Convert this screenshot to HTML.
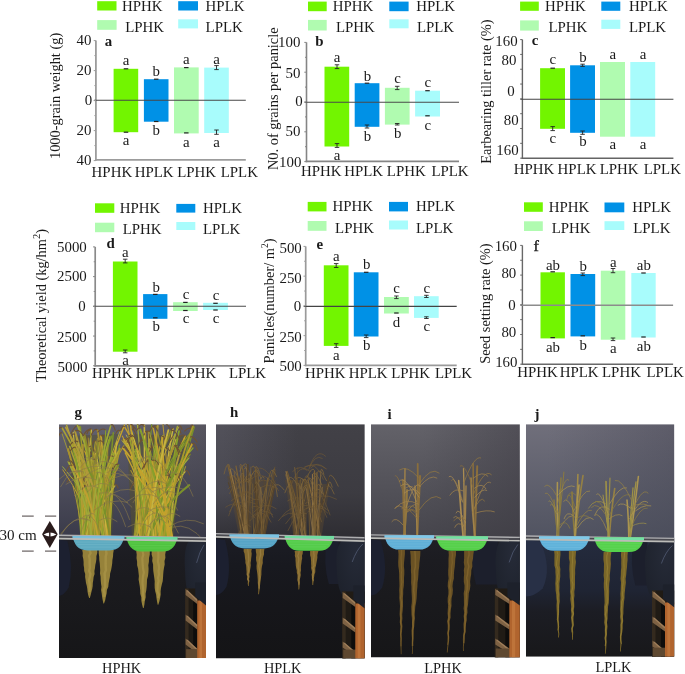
<!DOCTYPE html>
<html><head><meta charset="utf-8"><title>Figure</title>
<style>
html,body{margin:0;padding:0;background:#fff;}
body{width:685px;height:674px;overflow:hidden;}
svg{display:block;}
text{font-family:"Liberation Serif","Times New Roman",serif;fill:#1a1a1a;}
</style></head>
<body>
<svg width="685" height="674" viewBox="0 0 685 674">
<rect width="685" height="674" fill="#fff"/>
<rect x="97.20" y="1.20" width="19.30" height="9.30" fill="#72f500"/>
<text transform="translate(122.00,10.70) scale(1.035,1)" font-size="14.4" text-anchor="start" font-weight="normal" >HPHK</text>
<rect x="178.20" y="1.20" width="19.80" height="9.30" fill="#0091e6"/>
<text transform="translate(205.60,10.70) scale(1.035,1)" font-size="14.4" text-anchor="start" font-weight="normal" >HPLK</text>
<rect x="97.20" y="20.10" width="19.40" height="9.70" fill="#b0fbb0"/>
<text transform="translate(125.20,31.60) scale(1.035,1)" font-size="14.4" text-anchor="start" font-weight="normal" >LPHK</text>
<rect x="178.20" y="19.30" width="19.80" height="9.10" fill="#a8fcfc"/>
<text transform="translate(205.60,31.60) scale(1.035,1)" font-size="14.4" text-anchor="start" font-weight="normal" >LPLK</text>
<rect x="113.60" y="68.80" width="24.60" height="63.40" fill="#72f500"/>
<rect x="143.90" y="79.20" width="24.60" height="42.50" fill="#0091e6"/>
<rect x="174.00" y="67.40" width="24.70" height="66.00" fill="#b0fbb0"/>
<rect x="204.20" y="67.60" width="24.60" height="65.40" fill="#a8fcfc"/>
<line x1="95.90" y1="40.60" x2="95.90" y2="160.80" stroke="#9c9c9c" stroke-width="1.8"/>
<line x1="95.00" y1="159.90" x2="245.80" y2="159.90" stroke="#9c9c9c" stroke-width="1.8"/>
<line x1="93.90" y1="100.30" x2="245.80" y2="100.30" stroke="#474747" stroke-width="1.1"/>
<line x1="93.70" y1="40.60" x2="95.90" y2="40.60" stroke="#9c9c9c" stroke-width="1"/>
<line x1="94.40" y1="55.60" x2="95.90" y2="55.60" stroke="#9c9c9c" stroke-width="1"/>
<line x1="93.70" y1="70.60" x2="95.90" y2="70.60" stroke="#9c9c9c" stroke-width="1"/>
<line x1="94.40" y1="85.60" x2="95.90" y2="85.60" stroke="#9c9c9c" stroke-width="1"/>
<line x1="93.70" y1="100.60" x2="95.90" y2="100.60" stroke="#9c9c9c" stroke-width="1"/>
<line x1="94.40" y1="115.60" x2="95.90" y2="115.60" stroke="#9c9c9c" stroke-width="1"/>
<line x1="93.70" y1="130.60" x2="95.90" y2="130.60" stroke="#9c9c9c" stroke-width="1"/>
<line x1="94.40" y1="145.60" x2="95.90" y2="145.60" stroke="#9c9c9c" stroke-width="1"/>
<line x1="93.70" y1="160.60" x2="95.90" y2="160.60" stroke="#9c9c9c" stroke-width="1"/>
<text transform="translate(91.40,45.20) scale(1.035,1)" font-size="14.4" text-anchor="end" font-weight="normal" >40</text>
<text transform="translate(91.40,74.90) scale(1.035,1)" font-size="14.4" text-anchor="end" font-weight="normal" >20</text>
<text transform="translate(92.20,104.80) scale(1.035,1)" font-size="14.4" text-anchor="end" font-weight="normal" >0</text>
<text transform="translate(91.40,134.80) scale(1.035,1)" font-size="14.4" text-anchor="end" font-weight="normal" >20</text>
<text transform="translate(91.40,164.60) scale(1.035,1)" font-size="14.4" text-anchor="end" font-weight="normal" >40</text>
<line x1="123.75" y1="68.80" x2="128.25" y2="68.80" stroke="#222" stroke-width="1.2"/>
<line x1="153.95" y1="79.20" x2="158.45" y2="79.20" stroke="#222" stroke-width="1.2"/>
<line x1="184.05" y1="67.60" x2="188.55" y2="67.60" stroke="#222" stroke-width="1.2"/>
<line x1="216.50" y1="65.60" x2="216.50" y2="69.60" stroke="#222" stroke-width="0.9"/>
<line x1="214.25" y1="65.60" x2="218.75" y2="65.60" stroke="#222" stroke-width="0.9"/>
<line x1="214.25" y1="69.60" x2="218.75" y2="69.60" stroke="#222" stroke-width="0.9"/>
<line x1="123.75" y1="132.20" x2="128.25" y2="132.20" stroke="#222" stroke-width="1.2"/>
<line x1="153.95" y1="121.50" x2="158.45" y2="121.50" stroke="#222" stroke-width="1.2"/>
<line x1="184.05" y1="132.90" x2="188.55" y2="132.90" stroke="#222" stroke-width="1.2"/>
<line x1="216.50" y1="130.00" x2="216.50" y2="134.30" stroke="#222" stroke-width="0.9"/>
<line x1="214.25" y1="130.00" x2="218.75" y2="130.00" stroke="#222" stroke-width="0.9"/>
<line x1="214.25" y1="134.30" x2="218.75" y2="134.30" stroke="#222" stroke-width="0.9"/>
<text transform="translate(126.00,65.20) scale(1.035,1)" font-size="14.4" text-anchor="middle" font-weight="normal" >a</text>
<text transform="translate(156.20,76.20) scale(1.035,1)" font-size="14.4" text-anchor="middle" font-weight="normal" >b</text>
<text transform="translate(186.30,64.30) scale(1.035,1)" font-size="14.4" text-anchor="middle" font-weight="normal" >a</text>
<text transform="translate(216.50,64.00) scale(1.035,1)" font-size="14.4" text-anchor="middle" font-weight="normal" >a</text>
<text transform="translate(126.00,145.00) scale(1.035,1)" font-size="14.4" text-anchor="middle" font-weight="normal" >a</text>
<text transform="translate(156.20,134.80) scale(1.035,1)" font-size="14.4" text-anchor="middle" font-weight="normal" >b</text>
<text transform="translate(186.30,146.50) scale(1.035,1)" font-size="14.4" text-anchor="middle" font-weight="normal" >a</text>
<text transform="translate(216.50,147.00) scale(1.035,1)" font-size="14.4" text-anchor="middle" font-weight="normal" >a</text>
<text transform="translate(104.80,46.00) scale(1.035,1)" font-size="14.4" text-anchor="start" font-weight="bold" >a</text>
<text transform="translate(91.60,176.60) scale(1.035,1)" font-size="14.4" text-anchor="start" font-weight="normal" >HPHK</text>
<text transform="translate(134.70,176.60) scale(1.035,1)" font-size="14.4" text-anchor="start" font-weight="normal" >HPLK</text>
<text transform="translate(177.20,176.60) scale(1.035,1)" font-size="14.4" text-anchor="start" font-weight="normal" >LPHK</text>
<text transform="translate(220.70,176.60) scale(1.035,1)" font-size="14.4" text-anchor="start" font-weight="normal" >LPLK</text>
<text x="0" y="0" font-size="14.4" text-anchor="middle" transform="translate(59.50,95.90) rotate(-90)">1000-grain weight (g)</text>
<rect x="308.00" y="1.60" width="18.70" height="9.60" fill="#72f500"/>
<text transform="translate(332.70,11.20) scale(1.035,1)" font-size="14.4" text-anchor="start" font-weight="normal" >HPHK</text>
<rect x="389.30" y="1.60" width="19.30" height="9.60" fill="#0091e6"/>
<text transform="translate(416.20,11.20) scale(1.035,1)" font-size="14.4" text-anchor="start" font-weight="normal" >HPLK</text>
<rect x="308.00" y="19.90" width="18.70" height="10.60" fill="#b0fbb0"/>
<text transform="translate(335.90,31.60) scale(1.035,1)" font-size="14.4" text-anchor="start" font-weight="normal" >LPHK</text>
<rect x="389.30" y="19.30" width="19.30" height="9.00" fill="#a8fcfc"/>
<text transform="translate(416.90,31.60) scale(1.035,1)" font-size="14.4" text-anchor="start" font-weight="normal" >LPLK</text>
<rect x="324.50" y="66.70" width="24.70" height="79.80" fill="#72f500"/>
<rect x="354.70" y="83.20" width="24.70" height="43.60" fill="#0091e6"/>
<rect x="384.90" y="87.80" width="24.70" height="36.80" fill="#b0fbb0"/>
<rect x="415.10" y="90.70" width="24.90" height="25.80" fill="#a8fcfc"/>
<line x1="306.50" y1="42.40" x2="306.50" y2="162.20" stroke="#858585" stroke-width="1.6"/>
<line x1="305.70" y1="161.40" x2="459.00" y2="161.40" stroke="#858585" stroke-width="1.6"/>
<line x1="304.50" y1="102.20" x2="459.00" y2="102.20" stroke="#4a4a4a" stroke-width="1.1"/>
<line x1="304.30" y1="42.40" x2="306.50" y2="42.40" stroke="#858585" stroke-width="1"/>
<line x1="305.00" y1="57.30" x2="306.50" y2="57.30" stroke="#858585" stroke-width="1"/>
<line x1="304.30" y1="72.20" x2="306.50" y2="72.20" stroke="#858585" stroke-width="1"/>
<line x1="305.00" y1="87.10" x2="306.50" y2="87.10" stroke="#858585" stroke-width="1"/>
<line x1="304.30" y1="102.00" x2="306.50" y2="102.00" stroke="#858585" stroke-width="1"/>
<line x1="305.00" y1="116.90" x2="306.50" y2="116.90" stroke="#858585" stroke-width="1"/>
<line x1="304.30" y1="131.80" x2="306.50" y2="131.80" stroke="#858585" stroke-width="1"/>
<line x1="305.00" y1="146.70" x2="306.50" y2="146.70" stroke="#858585" stroke-width="1"/>
<line x1="304.30" y1="161.60" x2="306.50" y2="161.60" stroke="#858585" stroke-width="1"/>
<text transform="translate(300.40,46.80) scale(1.035,1)" font-size="14.4" text-anchor="end" font-weight="normal" >100</text>
<text transform="translate(300.40,77.60) scale(1.035,1)" font-size="14.4" text-anchor="end" font-weight="normal" >50</text>
<text transform="translate(302.60,106.40) scale(1.035,1)" font-size="14.4" text-anchor="end" font-weight="normal" >0</text>
<text transform="translate(300.40,136.20) scale(1.035,1)" font-size="14.4" text-anchor="end" font-weight="normal" >50</text>
<text transform="translate(301.40,167.00) scale(1.035,1)" font-size="14.4" text-anchor="end" font-weight="normal" >100</text>
<line x1="337.00" y1="64.80" x2="337.00" y2="68.60" stroke="#222" stroke-width="0.9"/>
<line x1="334.75" y1="64.80" x2="339.25" y2="64.80" stroke="#222" stroke-width="0.9"/>
<line x1="334.75" y1="68.60" x2="339.25" y2="68.60" stroke="#222" stroke-width="0.9"/>
<line x1="364.75" y1="83.20" x2="369.25" y2="83.20" stroke="#222" stroke-width="1.2"/>
<line x1="397.20" y1="86.30" x2="397.20" y2="89.60" stroke="#222" stroke-width="0.9"/>
<line x1="394.95" y1="86.30" x2="399.45" y2="86.30" stroke="#222" stroke-width="0.9"/>
<line x1="394.95" y1="89.60" x2="399.45" y2="89.60" stroke="#222" stroke-width="0.9"/>
<line x1="425.25" y1="90.70" x2="429.75" y2="90.70" stroke="#222" stroke-width="1.2"/>
<line x1="337.00" y1="143.60" x2="337.00" y2="147.40" stroke="#222" stroke-width="0.9"/>
<line x1="334.75" y1="143.60" x2="339.25" y2="143.60" stroke="#222" stroke-width="0.9"/>
<line x1="334.75" y1="147.40" x2="339.25" y2="147.40" stroke="#222" stroke-width="0.9"/>
<line x1="367.00" y1="125.00" x2="367.00" y2="128.00" stroke="#222" stroke-width="0.9"/>
<line x1="364.75" y1="125.00" x2="369.25" y2="125.00" stroke="#222" stroke-width="0.9"/>
<line x1="364.75" y1="128.00" x2="369.25" y2="128.00" stroke="#222" stroke-width="0.9"/>
<line x1="397.20" y1="123.50" x2="397.20" y2="125.00" stroke="#222" stroke-width="0.9"/>
<line x1="394.95" y1="123.50" x2="399.45" y2="123.50" stroke="#222" stroke-width="0.9"/>
<line x1="394.95" y1="125.00" x2="399.45" y2="125.00" stroke="#222" stroke-width="0.9"/>
<line x1="425.25" y1="115.80" x2="429.75" y2="115.80" stroke="#222" stroke-width="1.2"/>
<text transform="translate(337.00,62.10) scale(1.035,1)" font-size="14.4" text-anchor="middle" font-weight="normal" >a</text>
<text transform="translate(367.50,80.80) scale(1.035,1)" font-size="14.4" text-anchor="middle" font-weight="normal" >b</text>
<text transform="translate(397.60,83.00) scale(1.035,1)" font-size="14.4" text-anchor="middle" font-weight="normal" >c</text>
<text transform="translate(427.70,86.70) scale(1.035,1)" font-size="14.4" text-anchor="middle" font-weight="normal" >c</text>
<text transform="translate(337.00,159.60) scale(1.035,1)" font-size="14.4" text-anchor="middle" font-weight="normal" >a</text>
<text transform="translate(367.50,140.60) scale(1.035,1)" font-size="14.4" text-anchor="middle" font-weight="normal" >b</text>
<text transform="translate(397.60,137.70) scale(1.035,1)" font-size="14.4" text-anchor="middle" font-weight="normal" >b</text>
<text transform="translate(427.70,129.60) scale(1.035,1)" font-size="14.4" text-anchor="middle" font-weight="normal" >c</text>
<text transform="translate(315.30,45.80) scale(1.035,1)" font-size="14.4" text-anchor="start" font-weight="bold" >b</text>
<text transform="translate(301.00,176.00) scale(1.035,1)" font-size="14.4" text-anchor="start" font-weight="normal" >HPHK</text>
<text transform="translate(344.20,176.00) scale(1.035,1)" font-size="14.4" text-anchor="start" font-weight="normal" >HPLK</text>
<text transform="translate(386.80,176.00) scale(1.035,1)" font-size="14.4" text-anchor="start" font-weight="normal" >LPHK</text>
<text transform="translate(431.40,176.00) scale(1.035,1)" font-size="14.4" text-anchor="start" font-weight="normal" >LPLK</text>
<text x="0" y="0" font-size="14.4" text-anchor="middle" transform="translate(278.20,98.70) rotate(-90)">N0. of grains per panicle</text>
<rect x="520.10" y="1.60" width="18.70" height="9.20" fill="#72f500"/>
<text transform="translate(545.10,10.80) scale(1.035,1)" font-size="14.4" text-anchor="start" font-weight="normal" >HPHK</text>
<rect x="601.30" y="1.60" width="19.00" height="9.20" fill="#0091e6"/>
<text transform="translate(628.90,10.80) scale(1.035,1)" font-size="14.4" text-anchor="start" font-weight="normal" >HPLK</text>
<rect x="520.10" y="20.40" width="18.70" height="10.20" fill="#b0fbb0"/>
<text transform="translate(548.40,31.60) scale(1.035,1)" font-size="14.4" text-anchor="start" font-weight="normal" >LPHK</text>
<rect x="601.30" y="19.70" width="19.00" height="9.20" fill="#a8fcfc"/>
<text transform="translate(628.90,31.60) scale(1.035,1)" font-size="14.4" text-anchor="start" font-weight="normal" >LPLK</text>
<rect x="540.10" y="68.20" width="24.90" height="60.60" fill="#72f500"/>
<rect x="570.10" y="65.30" width="24.90" height="67.50" fill="#0091e6"/>
<rect x="600.00" y="62.00" width="25.00" height="74.70" fill="#b0fbb0"/>
<rect x="630.30" y="62.00" width="24.90" height="74.70" fill="#a8fcfc"/>
<line x1="522.40" y1="39.60" x2="522.40" y2="158.90" stroke="#646464" stroke-width="1.4"/>
<line x1="521.70" y1="158.20" x2="673.40" y2="158.20" stroke="#646464" stroke-width="1.4"/>
<line x1="520.40" y1="99.30" x2="673.40" y2="99.30" stroke="#444444" stroke-width="1.1"/>
<line x1="520.20" y1="39.60" x2="522.40" y2="39.60" stroke="#646464" stroke-width="1"/>
<line x1="520.20" y1="54.42" x2="522.40" y2="54.42" stroke="#646464" stroke-width="1"/>
<line x1="520.20" y1="69.24" x2="522.40" y2="69.24" stroke="#646464" stroke-width="1"/>
<line x1="520.20" y1="84.06" x2="522.40" y2="84.06" stroke="#646464" stroke-width="1"/>
<line x1="520.20" y1="98.88" x2="522.40" y2="98.88" stroke="#646464" stroke-width="1"/>
<line x1="520.20" y1="113.70" x2="522.40" y2="113.70" stroke="#646464" stroke-width="1"/>
<line x1="520.20" y1="128.52" x2="522.40" y2="128.52" stroke="#646464" stroke-width="1"/>
<line x1="520.20" y1="143.34" x2="522.40" y2="143.34" stroke="#646464" stroke-width="1"/>
<line x1="520.20" y1="158.16" x2="522.40" y2="158.16" stroke="#646464" stroke-width="1"/>
<text transform="translate(517.60,45.80) scale(1.035,1)" font-size="14.4" text-anchor="end" font-weight="normal" >160</text>
<text transform="translate(516.40,64.70) scale(1.035,1)" font-size="14.4" text-anchor="end" font-weight="normal" >80</text>
<text transform="translate(514.80,95.70) scale(1.035,1)" font-size="14.4" text-anchor="end" font-weight="normal" >0</text>
<text transform="translate(518.60,124.50) scale(1.035,1)" font-size="14.4" text-anchor="end" font-weight="normal" >80</text>
<text transform="translate(518.60,155.00) scale(1.035,1)" font-size="14.4" text-anchor="end" font-weight="normal" >160</text>
<line x1="550.45" y1="68.20" x2="554.95" y2="68.20" stroke="#222" stroke-width="1.2"/>
<line x1="582.60" y1="64.20" x2="582.60" y2="66.40" stroke="#222" stroke-width="0.9"/>
<line x1="580.35" y1="64.20" x2="584.85" y2="64.20" stroke="#222" stroke-width="0.9"/>
<line x1="580.35" y1="66.40" x2="584.85" y2="66.40" stroke="#222" stroke-width="0.9"/>
<line x1="552.70" y1="126.60" x2="552.70" y2="130.60" stroke="#222" stroke-width="0.9"/>
<line x1="550.45" y1="126.60" x2="554.95" y2="126.60" stroke="#222" stroke-width="0.9"/>
<line x1="550.45" y1="130.60" x2="554.95" y2="130.60" stroke="#222" stroke-width="0.9"/>
<line x1="582.60" y1="131.00" x2="582.60" y2="134.30" stroke="#222" stroke-width="0.9"/>
<line x1="580.35" y1="131.00" x2="584.85" y2="131.00" stroke="#222" stroke-width="0.9"/>
<line x1="580.35" y1="134.30" x2="584.85" y2="134.30" stroke="#222" stroke-width="0.9"/>
<text transform="translate(552.70,64.20) scale(1.035,1)" font-size="14.4" text-anchor="middle" font-weight="normal" >c</text>
<text transform="translate(582.90,62.00) scale(1.035,1)" font-size="14.4" text-anchor="middle" font-weight="normal" >b</text>
<text transform="translate(612.90,58.80) scale(1.035,1)" font-size="14.4" text-anchor="middle" font-weight="normal" >a</text>
<text transform="translate(643.00,58.80) scale(1.035,1)" font-size="14.4" text-anchor="middle" font-weight="normal" >a</text>
<text transform="translate(552.70,143.00) scale(1.035,1)" font-size="14.4" text-anchor="middle" font-weight="normal" >c</text>
<text transform="translate(582.90,146.30) scale(1.035,1)" font-size="14.4" text-anchor="middle" font-weight="normal" >b</text>
<text transform="translate(612.90,148.50) scale(1.035,1)" font-size="14.4" text-anchor="middle" font-weight="normal" >a</text>
<text transform="translate(643.00,148.50) scale(1.035,1)" font-size="14.4" text-anchor="middle" font-weight="normal" >a</text>
<text transform="translate(531.80,44.60) scale(1.035,1)" font-size="14.4" text-anchor="start" font-weight="bold" >c</text>
<text transform="translate(513.70,173.80) scale(1.035,1)" font-size="14.4" text-anchor="start" font-weight="normal" >HPHK</text>
<text transform="translate(557.60,173.80) scale(1.035,1)" font-size="14.4" text-anchor="start" font-weight="normal" >HPLK</text>
<text transform="translate(599.70,173.80) scale(1.035,1)" font-size="14.4" text-anchor="start" font-weight="normal" >LPHK</text>
<text transform="translate(643.70,173.80) scale(1.035,1)" font-size="14.4" text-anchor="start" font-weight="normal" >LPLK</text>
<text x="0" y="0" font-size="14.4" text-anchor="middle" transform="translate(490.50,91.60) rotate(-90)">Earbearing tiller rate (%)</text>
<rect x="95.00" y="203.30" width="19.30" height="9.50" fill="#72f500"/>
<text transform="translate(119.80,212.80) scale(1.035,1)" font-size="14.4" text-anchor="start" font-weight="normal" >HPHK</text>
<rect x="176.30" y="203.90" width="19.00" height="8.70" fill="#0091e6"/>
<text transform="translate(203.00,212.80) scale(1.035,1)" font-size="14.4" text-anchor="start" font-weight="normal" >HPLK</text>
<rect x="95.00" y="222.70" width="19.30" height="9.50" fill="#b0fbb0"/>
<text transform="translate(122.70,233.70) scale(1.035,1)" font-size="14.4" text-anchor="start" font-weight="normal" >LPHK</text>
<rect x="176.30" y="222.00" width="19.00" height="8.00" fill="#a8fcfc"/>
<text transform="translate(203.00,233.70) scale(1.035,1)" font-size="14.4" text-anchor="start" font-weight="normal" >LPLK</text>
<rect x="112.90" y="261.50" width="24.60" height="90.20" fill="#72f500"/>
<rect x="143.10" y="294.10" width="24.30" height="24.70" fill="#0091e6"/>
<rect x="173.10" y="302.20" width="24.60" height="8.80" fill="#b0fbb0"/>
<rect x="203.10" y="302.80" width="24.80" height="7.20" fill="#a8fcfc"/>
<line x1="95.20" y1="246.90" x2="95.20" y2="366.65" stroke="#8a8a8a" stroke-width="1.7"/>
<line x1="94.35" y1="365.80" x2="246.00" y2="365.80" stroke="#8a8a8a" stroke-width="1.7"/>
<line x1="93.20" y1="306.30" x2="246.00" y2="306.30" stroke="#4a4a4a" stroke-width="1.1"/>
<line x1="93.00" y1="246.90" x2="95.20" y2="246.90" stroke="#8a8a8a" stroke-width="1"/>
<line x1="93.70" y1="261.76" x2="95.20" y2="261.76" stroke="#8a8a8a" stroke-width="1"/>
<line x1="93.00" y1="276.62" x2="95.20" y2="276.62" stroke="#8a8a8a" stroke-width="1"/>
<line x1="93.70" y1="291.48" x2="95.20" y2="291.48" stroke="#8a8a8a" stroke-width="1"/>
<line x1="93.00" y1="306.34" x2="95.20" y2="306.34" stroke="#8a8a8a" stroke-width="1"/>
<line x1="93.70" y1="321.20" x2="95.20" y2="321.20" stroke="#8a8a8a" stroke-width="1"/>
<line x1="93.00" y1="336.06" x2="95.20" y2="336.06" stroke="#8a8a8a" stroke-width="1"/>
<line x1="93.70" y1="350.92" x2="95.20" y2="350.92" stroke="#8a8a8a" stroke-width="1"/>
<line x1="93.00" y1="365.78" x2="95.20" y2="365.78" stroke="#8a8a8a" stroke-width="1"/>
<text transform="translate(86.80,251.70) scale(1.035,1)" font-size="14.4" text-anchor="end" font-weight="normal" >5000</text>
<text transform="translate(86.80,281.30) scale(1.035,1)" font-size="14.4" text-anchor="end" font-weight="normal" >2500</text>
<text transform="translate(85.60,311.00) scale(1.035,1)" font-size="14.4" text-anchor="end" font-weight="normal" >0</text>
<text transform="translate(86.80,341.50) scale(1.035,1)" font-size="14.4" text-anchor="end" font-weight="normal" >2500</text>
<text transform="translate(87.40,371.80) scale(1.035,1)" font-size="14.4" text-anchor="end" font-weight="normal" >5000</text>
<line x1="125.20" y1="259.20" x2="125.20" y2="262.90" stroke="#222" stroke-width="0.9"/>
<line x1="122.95" y1="259.20" x2="127.45" y2="259.20" stroke="#222" stroke-width="0.9"/>
<line x1="122.95" y1="262.90" x2="127.45" y2="262.90" stroke="#222" stroke-width="0.9"/>
<line x1="153.05" y1="294.40" x2="157.55" y2="294.40" stroke="#222" stroke-width="1.2"/>
<line x1="183.15" y1="302.40" x2="187.65" y2="302.40" stroke="#222" stroke-width="1.2"/>
<line x1="213.25" y1="303.30" x2="217.75" y2="303.30" stroke="#222" stroke-width="1.2"/>
<line x1="125.20" y1="350.00" x2="125.20" y2="352.80" stroke="#222" stroke-width="0.9"/>
<line x1="122.95" y1="350.00" x2="127.45" y2="350.00" stroke="#222" stroke-width="0.9"/>
<line x1="122.95" y1="352.80" x2="127.45" y2="352.80" stroke="#222" stroke-width="0.9"/>
<line x1="153.05" y1="317.80" x2="157.55" y2="317.80" stroke="#222" stroke-width="1.2"/>
<line x1="183.15" y1="310.50" x2="187.65" y2="310.50" stroke="#222" stroke-width="1.2"/>
<line x1="213.25" y1="310.00" x2="217.75" y2="310.00" stroke="#222" stroke-width="1.2"/>
<text transform="translate(125.30,257.00) scale(1.035,1)" font-size="14.4" text-anchor="middle" font-weight="normal" >a</text>
<text transform="translate(156.10,291.50) scale(1.035,1)" font-size="14.4" text-anchor="middle" font-weight="normal" >b</text>
<text transform="translate(186.00,298.90) scale(1.035,1)" font-size="14.4" text-anchor="middle" font-weight="normal" >c</text>
<text transform="translate(216.00,299.60) scale(1.035,1)" font-size="14.4" text-anchor="middle" font-weight="normal" >c</text>
<text transform="translate(125.50,364.60) scale(1.035,1)" font-size="14.4" text-anchor="middle" font-weight="normal" >a</text>
<text transform="translate(156.10,331.30) scale(1.035,1)" font-size="14.4" text-anchor="middle" font-weight="normal" >b</text>
<text transform="translate(186.00,323.20) scale(1.035,1)" font-size="14.4" text-anchor="middle" font-weight="normal" >c</text>
<text transform="translate(216.00,322.60) scale(1.035,1)" font-size="14.4" text-anchor="middle" font-weight="normal" >c</text>
<text transform="translate(106.50,248.30) scale(1.035,1)" font-size="14.4" text-anchor="start" font-weight="bold" >d</text>
<text transform="translate(92.00,378.00) scale(1.035,1)" font-size="14.4" text-anchor="start" font-weight="normal" >HPHK</text>
<text transform="translate(135.70,378.00) scale(1.035,1)" font-size="14.4" text-anchor="start" font-weight="normal" >HPLK</text>
<text transform="translate(177.40,378.00) scale(1.035,1)" font-size="14.4" text-anchor="start" font-weight="normal" >LPHK</text>
<text transform="translate(228.90,378.00) scale(1.035,1)" font-size="14.4" text-anchor="start" font-weight="normal" >LPLK</text>
<text x="0" y="0" font-size="14.4" text-anchor="middle" transform="translate(46.30,305.50) rotate(-90)">Theoretical yield (kg/hm<tspan font-size="10.5" dy="-6.5">2</tspan><tspan dy="6.5">)</tspan></text>
<rect x="307.70" y="201.90" width="18.80" height="9.50" fill="#72f500"/>
<text transform="translate(332.50,211.40) scale(1.035,1)" font-size="14.4" text-anchor="start" font-weight="normal" >HPHK</text>
<rect x="389.00" y="201.90" width="19.00" height="9.50" fill="#0091e6"/>
<text transform="translate(416.00,211.40) scale(1.035,1)" font-size="14.4" text-anchor="start" font-weight="normal" >HPLK</text>
<rect x="307.70" y="221.00" width="18.80" height="9.80" fill="#b0fbb0"/>
<text transform="translate(335.10,232.70) scale(1.035,1)" font-size="14.4" text-anchor="start" font-weight="normal" >LPHK</text>
<rect x="389.00" y="220.50" width="19.00" height="9.00" fill="#a8fcfc"/>
<text transform="translate(416.00,232.70) scale(1.035,1)" font-size="14.4" text-anchor="start" font-weight="normal" >LPLK</text>
<rect x="323.80" y="265.30" width="24.70" height="80.60" fill="#72f500"/>
<rect x="353.80" y="272.30" width="24.70" height="64.20" fill="#0091e6"/>
<rect x="384.00" y="297.00" width="24.80" height="16.50" fill="#b0fbb0"/>
<rect x="414.00" y="296.20" width="24.70" height="21.70" fill="#a8fcfc"/>
<line x1="305.70" y1="246.40" x2="305.70" y2="366.25" stroke="#9a9a9a" stroke-width="1.7"/>
<line x1="304.85" y1="365.40" x2="456.70" y2="365.40" stroke="#9a9a9a" stroke-width="1.7"/>
<line x1="303.70" y1="306.40" x2="456.70" y2="306.40" stroke="#444444" stroke-width="1.1"/>
<line x1="303.50" y1="246.40" x2="305.70" y2="246.40" stroke="#9a9a9a" stroke-width="1"/>
<line x1="304.20" y1="261.27" x2="305.70" y2="261.27" stroke="#9a9a9a" stroke-width="1"/>
<line x1="303.50" y1="276.15" x2="305.70" y2="276.15" stroke="#9a9a9a" stroke-width="1"/>
<line x1="304.20" y1="291.02" x2="305.70" y2="291.02" stroke="#9a9a9a" stroke-width="1"/>
<line x1="303.50" y1="305.90" x2="305.70" y2="305.90" stroke="#9a9a9a" stroke-width="1"/>
<line x1="304.20" y1="320.77" x2="305.70" y2="320.77" stroke="#9a9a9a" stroke-width="1"/>
<line x1="303.50" y1="335.65" x2="305.70" y2="335.65" stroke="#9a9a9a" stroke-width="1"/>
<line x1="304.20" y1="350.52" x2="305.70" y2="350.52" stroke="#9a9a9a" stroke-width="1"/>
<line x1="303.50" y1="365.40" x2="305.70" y2="365.40" stroke="#9a9a9a" stroke-width="1"/>
<text transform="translate(301.80,252.70) scale(1.035,1)" font-size="14.4" text-anchor="end" font-weight="normal" >500</text>
<text transform="translate(301.80,282.80) scale(1.035,1)" font-size="14.4" text-anchor="end" font-weight="normal" >250</text>
<text transform="translate(301.20,311.20) scale(1.035,1)" font-size="14.4" text-anchor="end" font-weight="normal" >0</text>
<text transform="translate(301.80,341.60) scale(1.035,1)" font-size="14.4" text-anchor="end" font-weight="normal" >250</text>
<text transform="translate(301.80,371.30) scale(1.035,1)" font-size="14.4" text-anchor="end" font-weight="normal" >500</text>
<line x1="336.20" y1="263.60" x2="336.20" y2="267.50" stroke="#222" stroke-width="0.9"/>
<line x1="333.95" y1="263.60" x2="338.45" y2="263.60" stroke="#222" stroke-width="0.9"/>
<line x1="333.95" y1="267.50" x2="338.45" y2="267.50" stroke="#222" stroke-width="0.9"/>
<line x1="363.95" y1="272.30" x2="368.45" y2="272.30" stroke="#222" stroke-width="1.2"/>
<line x1="396.40" y1="296.00" x2="396.40" y2="298.60" stroke="#222" stroke-width="0.9"/>
<line x1="394.15" y1="296.00" x2="398.65" y2="296.00" stroke="#222" stroke-width="0.9"/>
<line x1="394.15" y1="298.60" x2="398.65" y2="298.60" stroke="#222" stroke-width="0.9"/>
<line x1="426.40" y1="295.30" x2="426.40" y2="297.50" stroke="#222" stroke-width="0.9"/>
<line x1="424.15" y1="295.30" x2="428.65" y2="295.30" stroke="#222" stroke-width="0.9"/>
<line x1="424.15" y1="297.50" x2="428.65" y2="297.50" stroke="#222" stroke-width="0.9"/>
<line x1="336.20" y1="343.70" x2="336.20" y2="347.40" stroke="#222" stroke-width="0.9"/>
<line x1="333.95" y1="343.70" x2="338.45" y2="343.70" stroke="#222" stroke-width="0.9"/>
<line x1="333.95" y1="347.40" x2="338.45" y2="347.40" stroke="#222" stroke-width="0.9"/>
<line x1="366.20" y1="335.00" x2="366.20" y2="337.60" stroke="#222" stroke-width="0.9"/>
<line x1="363.95" y1="335.00" x2="368.45" y2="335.00" stroke="#222" stroke-width="0.9"/>
<line x1="363.95" y1="337.60" x2="368.45" y2="337.60" stroke="#222" stroke-width="0.9"/>
<line x1="394.15" y1="313.00" x2="398.65" y2="313.00" stroke="#222" stroke-width="1.2"/>
<line x1="426.40" y1="316.80" x2="426.40" y2="318.50" stroke="#222" stroke-width="0.9"/>
<line x1="424.15" y1="316.80" x2="428.65" y2="316.80" stroke="#222" stroke-width="0.9"/>
<line x1="424.15" y1="318.50" x2="428.65" y2="318.50" stroke="#222" stroke-width="0.9"/>
<text transform="translate(336.30,261.00) scale(1.035,1)" font-size="14.4" text-anchor="middle" font-weight="normal" >a</text>
<text transform="translate(366.70,269.30) scale(1.035,1)" font-size="14.4" text-anchor="middle" font-weight="normal" >b</text>
<text transform="translate(396.50,293.40) scale(1.035,1)" font-size="14.4" text-anchor="middle" font-weight="normal" >c</text>
<text transform="translate(426.70,292.70) scale(1.035,1)" font-size="14.4" text-anchor="middle" font-weight="normal" >c</text>
<text transform="translate(336.30,360.10) scale(1.035,1)" font-size="14.4" text-anchor="middle" font-weight="normal" >a</text>
<text transform="translate(366.70,349.60) scale(1.035,1)" font-size="14.4" text-anchor="middle" font-weight="normal" >b</text>
<text transform="translate(396.50,326.60) scale(1.035,1)" font-size="14.4" text-anchor="middle" font-weight="normal" >d</text>
<text transform="translate(426.70,331.00) scale(1.035,1)" font-size="14.4" text-anchor="middle" font-weight="normal" >c</text>
<text transform="translate(316.50,248.60) scale(1.035,1)" font-size="14.4" text-anchor="start" font-weight="bold" >e</text>
<text transform="translate(305.00,377.70) scale(1.035,1)" font-size="14.4" text-anchor="start" font-weight="normal" >HPHK</text>
<text transform="translate(348.70,377.70) scale(1.035,1)" font-size="14.4" text-anchor="start" font-weight="normal" >HPLK</text>
<text transform="translate(391.20,377.70) scale(1.035,1)" font-size="14.4" text-anchor="start" font-weight="normal" >LPHK</text>
<text transform="translate(434.90,377.70) scale(1.035,1)" font-size="14.4" text-anchor="start" font-weight="normal" >LPLK</text>
<text x="0" y="0" font-size="14.4" text-anchor="middle" transform="translate(273.60,301.00) rotate(-90)">Panicles(number/ m<tspan font-size="9.5" dy="-6">2</tspan><tspan dy="6">)</tspan></text>
<rect x="524.00" y="202.30" width="18.80" height="9.50" fill="#72f500"/>
<text transform="translate(548.80,211.80) scale(1.035,1)" font-size="14.4" text-anchor="start" font-weight="normal" >HPHK</text>
<rect x="604.50" y="202.50" width="19.80" height="9.80" fill="#0091e6"/>
<text transform="translate(632.20,211.80) scale(1.035,1)" font-size="14.4" text-anchor="start" font-weight="normal" >HPLK</text>
<rect x="524.00" y="221.30" width="18.80" height="9.70" fill="#b0fbb0"/>
<text transform="translate(551.70,232.70) scale(1.035,1)" font-size="14.4" text-anchor="start" font-weight="normal" >LPHK</text>
<rect x="604.50" y="221.20" width="19.80" height="8.80" fill="#a8fcfc"/>
<text transform="translate(633.20,232.70) scale(1.035,1)" font-size="14.4" text-anchor="start" font-weight="normal" >LPLK</text>
<rect x="540.50" y="272.30" width="24.40" height="66.10" fill="#72f500"/>
<rect x="570.50" y="274.00" width="24.70" height="62.40" fill="#0091e6"/>
<rect x="600.80" y="270.70" width="24.50" height="69.00" fill="#b0fbb0"/>
<rect x="631.30" y="273.00" width="24.40" height="64.50" fill="#a8fcfc"/>
<line x1="522.40" y1="245.40" x2="522.40" y2="364.90" stroke="#686868" stroke-width="1.4"/>
<line x1="521.70" y1="364.20" x2="673.10" y2="364.20" stroke="#686868" stroke-width="1.4"/>
<line x1="520.40" y1="305.20" x2="673.10" y2="305.20" stroke="#8c8c8c" stroke-width="1.5"/>
<line x1="520.20" y1="245.40" x2="522.40" y2="245.40" stroke="#686868" stroke-width="1"/>
<line x1="520.20" y1="260.25" x2="522.40" y2="260.25" stroke="#686868" stroke-width="1"/>
<line x1="520.20" y1="275.10" x2="522.40" y2="275.10" stroke="#686868" stroke-width="1"/>
<line x1="520.20" y1="289.95" x2="522.40" y2="289.95" stroke="#686868" stroke-width="1"/>
<line x1="520.20" y1="304.80" x2="522.40" y2="304.80" stroke="#686868" stroke-width="1"/>
<line x1="520.20" y1="319.65" x2="522.40" y2="319.65" stroke="#686868" stroke-width="1"/>
<line x1="520.20" y1="334.50" x2="522.40" y2="334.50" stroke="#686868" stroke-width="1"/>
<line x1="520.20" y1="349.35" x2="522.40" y2="349.35" stroke="#686868" stroke-width="1"/>
<line x1="520.20" y1="364.20" x2="522.40" y2="364.20" stroke="#686868" stroke-width="1"/>
<text transform="translate(517.00,250.60) scale(1.035,1)" font-size="14.4" text-anchor="end" font-weight="normal" >160</text>
<text transform="translate(516.30,278.00) scale(1.035,1)" font-size="14.4" text-anchor="end" font-weight="normal" >80</text>
<text transform="translate(515.60,309.50) scale(1.035,1)" font-size="14.4" text-anchor="end" font-weight="normal" >0</text>
<text transform="translate(516.30,336.90) scale(1.035,1)" font-size="14.4" text-anchor="end" font-weight="normal" >80</text>
<text transform="translate(517.50,366.50) scale(1.035,1)" font-size="14.4" text-anchor="end" font-weight="normal" >160</text>
<line x1="550.45" y1="271.80" x2="554.95" y2="271.80" stroke="#222" stroke-width="1.2"/>
<line x1="582.80" y1="273.00" x2="582.80" y2="275.60" stroke="#222" stroke-width="0.9"/>
<line x1="580.55" y1="273.00" x2="585.05" y2="273.00" stroke="#222" stroke-width="0.9"/>
<line x1="580.55" y1="275.60" x2="585.05" y2="275.60" stroke="#222" stroke-width="0.9"/>
<line x1="613.00" y1="268.50" x2="613.00" y2="272.70" stroke="#222" stroke-width="0.9"/>
<line x1="610.75" y1="268.50" x2="615.25" y2="268.50" stroke="#222" stroke-width="0.9"/>
<line x1="610.75" y1="272.70" x2="615.25" y2="272.70" stroke="#222" stroke-width="0.9"/>
<line x1="641.25" y1="273.00" x2="645.75" y2="273.00" stroke="#222" stroke-width="1.2"/>
<line x1="550.45" y1="337.60" x2="554.95" y2="337.60" stroke="#222" stroke-width="1.2"/>
<line x1="580.55" y1="335.80" x2="585.05" y2="335.80" stroke="#222" stroke-width="1.2"/>
<line x1="613.00" y1="338.00" x2="613.00" y2="340.60" stroke="#222" stroke-width="0.9"/>
<line x1="610.75" y1="338.00" x2="615.25" y2="338.00" stroke="#222" stroke-width="0.9"/>
<line x1="610.75" y1="340.60" x2="615.25" y2="340.60" stroke="#222" stroke-width="0.9"/>
<line x1="641.25" y1="337.00" x2="645.75" y2="337.00" stroke="#222" stroke-width="1.2"/>
<text transform="translate(553.00,269.60) scale(1.035,1)" font-size="14.4" text-anchor="middle" font-weight="normal" >ab</text>
<text transform="translate(583.10,271.20) scale(1.035,1)" font-size="14.4" text-anchor="middle" font-weight="normal" >b</text>
<text transform="translate(613.40,266.70) scale(1.035,1)" font-size="14.4" text-anchor="middle" font-weight="normal" >a</text>
<text transform="translate(643.80,270.00) scale(1.035,1)" font-size="14.4" text-anchor="middle" font-weight="normal" >ab</text>
<text transform="translate(553.00,352.00) scale(1.035,1)" font-size="14.4" text-anchor="middle" font-weight="normal" >ab</text>
<text transform="translate(583.10,349.70) scale(1.035,1)" font-size="14.4" text-anchor="middle" font-weight="normal" >b</text>
<text transform="translate(613.40,353.10) scale(1.035,1)" font-size="14.4" text-anchor="middle" font-weight="normal" >a</text>
<text transform="translate(643.80,350.60) scale(1.035,1)" font-size="14.4" text-anchor="middle" font-weight="normal" >ab</text>
<text transform="translate(533.40,251.20) scale(1.035,1)" font-size="15.6" text-anchor="start" font-weight="normal" stroke="#1a1a1a" stroke-width="0.4">f</text>
<text transform="translate(517.20,377.30) scale(1.035,1)" font-size="14.4" text-anchor="start" font-weight="normal" >HPHK</text>
<text transform="translate(559.70,377.30) scale(1.035,1)" font-size="14.4" text-anchor="start" font-weight="normal" >HPLK</text>
<text transform="translate(602.00,377.30) scale(1.035,1)" font-size="14.4" text-anchor="start" font-weight="normal" >LPHK</text>
<text transform="translate(646.50,377.30) scale(1.035,1)" font-size="14.4" text-anchor="start" font-weight="normal" >LPLK</text>
<text x="0" y="0" font-size="14.4" text-anchor="middle" transform="translate(490.00,303.60) rotate(-90)">Seed setting rate (%)</text>
<clipPath id="cpg"><rect x="59" y="424.2" width="147.00" height="233.90"/></clipPath>
<linearGradient id="bgg" x1="0" y1="0" x2="1" y2="0"><stop offset="0" stop-color="#62616f"/><stop offset="0.35" stop-color="#62616f"/><stop offset="1.0" stop-color="#57555f"/><stop offset="1" stop-color="#57555f"/></linearGradient>
<linearGradient id="bvg" x1="0" y1="0" x2="0" y2="1"><stop offset="0" stop-color="#323342" stop-opacity="0"/><stop offset="1" stop-color="#323342" stop-opacity="0.85"/></linearGradient>
<radialGradient id="rbg" cx="0.7" cy="0.2" r="0.9"><stop offset="0" stop-color="#262b38"/><stop offset="1" stop-color="#1d212b"/></radialGradient>
<linearGradient id="log" x1="0" y1="0" x2="0" y2="1"><stop offset="0" stop-color="#1f1f26"/><stop offset="0.2" stop-color="#1c1c21"/><stop offset="0.5" stop-color="#1a1a1d"/><stop offset="1" stop-color="#161618"/></linearGradient>
<g clip-path="url(#cpg)">
<rect x="59" y="424.2" width="147.00" height="115.35" fill="url(#bgg)"/>
<rect x="59" y="424.2" width="147.00" height="115.35" fill="url(#bvg)"/>
<path d="M59,536.30 L206,538.80 L206,658.1 L59,658.1 Z" fill="url(#log)"/>
<path d="M59,539.8499999999999 L67.4,540.8499999999999 Q74.0,567.8499999999999 68.6,587.8499999999999 Q63.8,595.8499999999999 59,595.8499999999999 Z" fill="#1c2030"/>
<path d="M190.2,539.8499999999999 Q183.3,545.8499999999999 185.0,569.8499999999999 Q185.4,589.8499999999999 189.2,595.8499999999999 L206,603.8499999999999 L206,539.8499999999999 Z" fill="url(#rbg)"/>
<path d="M204,544.8499999999999 Q199.7,550.8499999999999 196.6,562.8499999999999" stroke="#56607a" stroke-width="0.7" fill="none"/>
<rect x="185.10" y="588.50" width="20.90" height="69.60" fill="#201b15"/>
<rect x="185.10" y="588.50" width="3.5" height="69.60" fill="#342a1e"/>
<rect x="193.22" y="598.50" width="4" height="59.60" fill="#0e0d0c"/>
<path d="M185.60,589.00 L197.22,599.00 L197.22,604.00 L185.60,595.00 Z" fill="#7e6244"/>
<path d="M187.10,590.50 L197.22,600.50" stroke="#a88660" stroke-width="1.2" opacity="0.8"/>
<path d="M185.60,614.50 L197.22,624.50 L197.22,629.50 L185.60,620.50 Z" fill="#7e6244"/>
<path d="M187.10,616.00 L197.22,626.00" stroke="#a88660" stroke-width="1.2" opacity="0.8"/>
<path d="M185.60,638.50 L197.22,648.50 L197.22,653.50 L185.60,644.50 Z" fill="#7e6244"/>
<path d="M187.10,640.00 L197.22,650.00" stroke="#a88660" stroke-width="1.2" opacity="0.8"/>
<rect x="186.10" y="649.10" width="12.12" height="9" fill="#5e4830"/>
<rect x="197.22" y="600.50" width="8.78" height="57.60" fill="#b0642e"/>
<rect x="199.42" y="600.50" width="2.63" height="57.60" fill="#c47a40" opacity="0.7"/>
<path d="M195.22,596.50 L206,605.50 L206,582.50 L195.22,582.50 Z" fill="#1d212b"/>
<path d="M82.2,550.0 L82.8,553.0 L82.6,556.0 L83.3,559.0 L83.6,562.0 L83.6,565.0 L84.1,568.0 L84.2,571.0 L85.2,574.0 L85.1,577.0 L85.6,580.0 L86.0,583.0 L86.8,586.0 L87.3,589.0 L87.6,592.0 L88.2,595.0 L89.1,598.0 L89.8,598.0 L90.7,595.0 L91.4,592.0 L92.2,589.0 L92.7,586.0 L92.8,583.0 L93.3,580.0 L93.6,577.0 L94.6,574.0 L94.4,571.0 L95.0,568.0 L95.3,565.0 L96.0,562.0 L96.4,559.0 L96.4,556.0 L97.3,553.0 L97.3,550.0 Z" fill="#94803a"/><path d="M89.3,550.0 L90.6,553.0 L89.0,556.0 L89.7,559.0 L89.6,562.0 L89.7,565.0 L89.8,568.0 L89.1,571.0 L90.4,574.0 L89.9,577.0 L88.9,580.0 L89.5,583.0 L89.7,586.0 L89.6,589.0 L89.5,592.0" stroke="#b09a4c" stroke-width="2.4" fill="none" opacity="0.55"/><path d="M98.7,550.0 L98.7,553.3 L99.2,556.7 L99.3,560.0 L99.8,563.4 L100.0,566.7 L100.2,570.1 L100.0,573.4 L100.6,576.8 L100.7,580.1 L101.0,583.4 L101.5,586.8 L101.1,590.1 L101.7,593.5 L102.1,596.8 L102.7,600.2 L103.4,603.5 L104.0,603.5 L105.2,600.2 L105.8,596.8 L106.6,593.5 L106.9,590.1 L108.3,586.8 L108.6,583.4 L109.2,580.1 L109.9,576.8 L110.1,573.4 L111.1,570.1 L111.7,566.7 L112.2,563.4 L112.4,560.0 L113.0,556.7 L113.2,553.3 L113.8,550.0 Z" fill="#96823a"/><path d="M105.9,550.0 L106.5,553.3 L105.7,556.7 L105.7,560.0 L105.6,563.4 L105.7,566.7 L106.0,570.1 L104.6,573.4 L104.8,576.8 L105.1,580.1 L105.0,583.4 L105.2,586.8 L103.7,590.1 L104.5,593.5 L104.2,596.8" stroke="#b09a4c" stroke-width="2.4" fill="none" opacity="0.55"/><path d="M136.2,551.0 L136.7,554.6 L136.5,558.1 L137.1,561.7 L137.1,565.2 L138.1,568.8 L138.5,572.4 L138.9,575.9 L138.6,579.5 L139.2,583.1 L139.8,586.6 L140.2,590.2 L140.3,593.8 L141.3,597.3 L141.4,600.9 L142.1,604.4 L143.0,608.0 L143.7,608.0 L144.4,604.4 L144.8,600.9 L145.7,597.3 L145.6,593.8 L146.3,590.2 L146.7,586.6 L146.9,583.1 L147.0,579.5 L148.0,575.9 L148.4,572.4 L148.6,568.8 L148.3,565.2 L148.9,561.7 L149.0,558.1 L149.8,554.6 L149.8,551.0 Z" fill="#94803a"/><path d="M142.5,551.0 L143.3,554.6 L142.3,558.1 L142.5,561.7 L142.7,565.2 L143.1,568.8 L143.8,572.4 L143.1,575.9 L142.7,579.5 L142.5,583.1 L142.9,586.6 L143.2,590.2 L143.0,593.8 L143.4,597.3 L143.5,600.9" stroke="#b09a4c" stroke-width="2.2" fill="none" opacity="0.55"/><path d="M151.7,551.0 L151.6,554.4 L152.5,557.7 L152.2,561.1 L153.1,564.4 L153.1,567.8 L153.3,571.1 L153.8,574.5 L154.3,577.9 L154.7,581.2 L154.6,584.6 L154.7,587.9 L155.2,591.3 L156.1,594.6 L156.5,598.0 L157.0,601.3 L157.7,604.7 L158.3,604.7 L159.4,601.3 L160.1,598.0 L160.7,594.6 L160.6,591.3 L161.0,587.9 L161.8,584.6 L162.7,581.2 L163.0,577.9 L163.2,574.5 L163.5,571.1 L164.0,567.8 L164.7,564.4 L164.5,561.1 L165.4,557.7 L165.2,554.4 L165.8,551.0 Z" fill="#96823a"/><path d="M158.3,551.0 L158.4,554.4 L158.4,557.7 L157.9,561.1 L158.7,564.4 L159.1,567.8 L158.6,571.1 L158.9,574.5 L158.1,577.9 L158.6,581.2 L157.7,584.6 L157.6,587.9 L157.4,591.3 L158.9,594.6 L158.1,598.0" stroke="#b09a4c" stroke-width="2.2" fill="none" opacity="0.55"/>
<path d="M82,537 C76,500 70,470 66,436 L118,434 C116,470 114,500 112,537 Z" fill="#56522e" opacity="0.5"/><path d="M132,537 C130,500 128,470 128,434 L188,436 C182,470 176,500 174,537 Z" fill="#56522e" opacity="0.5"/><path d="M94.6,537.0 Q95.1,505.5 96.8,479.7" stroke="#8c8a2c" stroke-width="1.83" fill="none" stroke-linecap="round" opacity="1.0"/><path d="M96.8,479.7 q2.7,-3 6.8,7.6" stroke="#6e5232" stroke-width="1.1" fill="none"/><path d="M83.8,537.0 Q84.0,476.3 80.4,426.7" stroke="#7a902a" stroke-width="1.56" fill="none" stroke-linecap="round" opacity="1.0"/><path d="M92.9,537.0 Q92.6,496.9 90.0,464.1" stroke="#b09a3a" stroke-width="0.82" fill="none" stroke-linecap="round" opacity="1.0"/><path d="M82.8,537.0 Q78.0,479.4 73.2,432.3" stroke="#c8b440" stroke-width="1.19" fill="none" stroke-linecap="round" opacity="1.0"/><path d="M86.9,537.0 Q81.6,480.8 76.0,434.8" stroke="#b4a838" stroke-width="1.35" fill="none" stroke-linecap="round" opacity="1.0"/><path d="M76.0,434.8 q-2.9,-3 -7.2,4.2" stroke="#6e5232" stroke-width="1.1" fill="none"/><path d="M87.9,537.0 Q86.4,476.0 79.5,426.1" stroke="#a89a2c" stroke-width="0.93" fill="none" stroke-linecap="round" opacity="1.0"/><path d="M79.5,426.1 q-3.5,-3 -8.7,7.9" stroke="#6e5232" stroke-width="1.1" fill="none"/><path d="M81.0,537.0 Q78.9,504.8 74.4,478.5" stroke="#7a902a" stroke-width="1.28" fill="none" stroke-linecap="round" opacity="1.0"/><path d="M74.4,478.5 q-3.1,-3 -7.7,3.9" stroke="#6e5232" stroke-width="1.1" fill="none"/><path d="M83.6,537.0 Q84.2,507.5 82.3,483.3" stroke="#b4a838" stroke-width="0.96" fill="none" stroke-linecap="round" opacity="1.0"/><path d="M81.3,537.0 Q84.9,486.9 90.8,445.9" stroke="#88a02c" stroke-width="1.34" fill="none" stroke-linecap="round" opacity="1.0"/><path d="M90.8,445.9 q-2.2,-3 -5.5,4.7" stroke="#6e5232" stroke-width="1.1" fill="none"/><path d="M92.8,537.0 Q103.8,475.4 124.4,425.0" stroke="#c4a22c" stroke-width="1.51" fill="none" stroke-linecap="round" opacity="1.0"/><path d="M81.6,537.0 Q79.4,509.1 73.0,486.2" stroke="#b09a3a" stroke-width="0.92" fill="none" stroke-linecap="round" opacity="1.0"/><path d="M87.4,537.0 Q83.8,498.4 77.5,466.8" stroke="#c0a030" stroke-width="1.26" fill="none" stroke-linecap="round" opacity="1.0"/><path d="M77.5,466.8 q-2.6,-3 -6.5,3.7" stroke="#6e5232" stroke-width="1.1" fill="none"/><path d="M99.0,537.0 Q96.6,485.7 84.8,443.8" stroke="#c8b440" stroke-width="1.80" fill="none" stroke-linecap="round" opacity="1.0"/><path d="M84.8,443.8 q1.6,-3 4.1,3.1" stroke="#6e5232" stroke-width="1.1" fill="none"/><path d="M108.3,537.0 Q108.5,479.6 113.3,432.7" stroke="#7a902a" stroke-width="1.55" fill="none" stroke-linecap="round" opacity="1.0"/><path d="M101.6,537.0 Q95.2,486.8 85.8,445.6" stroke="#a8a034" stroke-width="0.92" fill="none" stroke-linecap="round" opacity="1.0"/><path d="M85.8,445.6 q1.8,-3 4.4,6.9" stroke="#6e5232" stroke-width="1.1" fill="none"/><path d="M88.7,537.0 Q95.4,491.0 113.7,453.4" stroke="#9aa830" stroke-width="1.92" fill="none" stroke-linecap="round" opacity="1.0"/><path d="M84.8,537.0 Q87.3,493.3 91.7,457.5" stroke="#b4a838" stroke-width="1.14" fill="none" stroke-linecap="round" opacity="1.0"/><path d="M87.1,537.0 Q79.4,480.1 62.1,433.6" stroke="#a8a034" stroke-width="0.86" fill="none" stroke-linecap="round" opacity="1.0"/><path d="M62.1,433.6 q-1.4,-3 -3.6,3.0" stroke="#6e5232" stroke-width="1.1" fill="none"/><path d="M94.5,537.0 Q90.9,496.7 82.2,463.7" stroke="#9aa830" stroke-width="1.51" fill="none" stroke-linecap="round" opacity="1.0"/><path d="M95.2,537.0 Q90.0,481.3 83.9,435.7" stroke="#b09a3a" stroke-width="1.56" fill="none" stroke-linecap="round" opacity="1.0"/><path d="M83.9,435.7 q2.0,-3 4.9,9.0" stroke="#6e5232" stroke-width="1.1" fill="none"/><path d="M83.3,537.0 Q88.7,496.8 96.0,464.0" stroke="#7a902a" stroke-width="1.68" fill="none" stroke-linecap="round" opacity="1.0"/><path d="M96.0,464.0 q2.0,-3 5.1,6.8" stroke="#6e5232" stroke-width="1.1" fill="none"/><path d="M108.0,537.0 Q111.8,484.5 116.8,441.6" stroke="#c8b440" stroke-width="1.49" fill="none" stroke-linecap="round" opacity="1.0"/><path d="M92.5,537.0 Q92.5,491.5 98.3,454.3" stroke="#a0a83a" stroke-width="0.94" fill="none" stroke-linecap="round" opacity="1.0"/><path d="M98.3,454.3 q2.9,-3 7.4,4.7" stroke="#6e5232" stroke-width="1.1" fill="none"/><path d="M103.1,537.0 Q102.9,485.3 98.2,443.0" stroke="#b4a838" stroke-width="1.42" fill="none" stroke-linecap="round" opacity="1.0"/><path d="M90.3,537.0 Q85.0,475.5 66.6,425.2" stroke="#b4a838" stroke-width="1.40" fill="none" stroke-linecap="round" opacity="1.0"/><path d="M108.6,537.0 Q98.4,475.4 77.4,425.1" stroke="#a0a83a" stroke-width="1.53" fill="none" stroke-linecap="round" opacity="1.0"/><path d="M103.6,537.0 Q97.4,505.8 82.9,480.3" stroke="#88a02c" stroke-width="1.19" fill="none" stroke-linecap="round" opacity="1.0"/><path d="M87.0,537.0 Q89.1,499.9 88.6,469.6" stroke="#88a02c" stroke-width="1.26" fill="none" stroke-linecap="round" opacity="1.0"/><path d="M90.5,537.0 Q85.6,487.3 69.7,446.5" stroke="#a8a034" stroke-width="1.65" fill="none" stroke-linecap="round" opacity="1.0"/><path d="M89.3,537.0 Q83.2,485.6 71.8,443.6" stroke="#88a02c" stroke-width="1.80" fill="none" stroke-linecap="round" opacity="1.0"/><path d="M71.8,443.6 q2.8,-3 7.0,7.0" stroke="#6e5232" stroke-width="1.1" fill="none"/><path d="M106.3,537.0 Q106.0,481.5 101.0,436.2" stroke="#c0a030" stroke-width="1.85" fill="none" stroke-linecap="round" opacity="1.0"/><path d="M101.0,436.2 q2.6,-3 6.4,4.2" stroke="#6e5232" stroke-width="1.1" fill="none"/><path d="M104.7,537.0 Q91.8,477.1 62.2,428.1" stroke="#a8a034" stroke-width="1.72" fill="none" stroke-linecap="round" opacity="1.0"/><path d="M62.2,428.1 q-3.1,-3 -7.8,8.9" stroke="#6e5232" stroke-width="1.1" fill="none"/><path d="M84.5,537.0 Q80.1,488.7 68.0,449.1" stroke="#a89030" stroke-width="1.95" fill="none" stroke-linecap="round" opacity="1.0"/><path d="M87.0,537.0 Q86.4,478.0 91.4,429.7" stroke="#c8b440" stroke-width="1.44" fill="none" stroke-linecap="round" opacity="1.0"/><path d="M91.4,429.7 q-1.9,-3 -4.6,4.4" stroke="#6e5232" stroke-width="1.1" fill="none"/><path d="M101.9,537.0 Q100.7,491.7 94.3,454.7" stroke="#a89a2c" stroke-width="1.82" fill="none" stroke-linecap="round" opacity="1.0"/><path d="M87.7,537.0 Q87.1,504.0 87.3,477.0" stroke="#c8b440" stroke-width="1.34" fill="none" stroke-linecap="round" opacity="1.0"/><path d="M108.3,537.0 Q102.9,489.9 85.1,451.4" stroke="#c4a22c" stroke-width="1.78" fill="none" stroke-linecap="round" opacity="1.0"/><path d="M85.1,451.4 q2.8,-3 6.9,3.4" stroke="#6e5232" stroke-width="1.1" fill="none"/><path d="M102.7,537.0 Q106.7,492.8 113.4,456.7" stroke="#88a02c" stroke-width="1.09" fill="none" stroke-linecap="round" opacity="1.0"/><path d="M113.4,456.7 q-3.5,-3 -8.9,5.8" stroke="#6e5232" stroke-width="1.1" fill="none"/><path d="M104.7,537.0 Q99.2,504.8 81.5,478.5" stroke="#a89030" stroke-width="1.41" fill="none" stroke-linecap="round" opacity="1.0"/><path d="M81.5,478.5 q2.5,-3 6.3,7.4" stroke="#6e5232" stroke-width="1.1" fill="none"/><path d="M95.6,537.0 Q84.0,500.1 62.8,469.8" stroke="#c4a22c" stroke-width="0.84" fill="none" stroke-linecap="round" opacity="1.0"/><path d="M101.6,537.0 Q109.0,486.3 119.6,444.9" stroke="#7a902a" stroke-width="1.42" fill="none" stroke-linecap="round" opacity="1.0"/><path d="M94.2,537.0 Q101.9,490.3 117.3,452.1" stroke="#c4a22c" stroke-width="1.07" fill="none" stroke-linecap="round" opacity="1.0"/><path d="M89.7,537.0 Q95.2,492.7 107.6,456.5" stroke="#8c8a2c" stroke-width="1.11" fill="none" stroke-linecap="round" opacity="1.0"/><path d="M109.6,537.0 Q111.0,491.5 116.7,454.3" stroke="#9aa830" stroke-width="1.96" fill="none" stroke-linecap="round" opacity="1.0"/><path d="M98.2,537.0 Q90.9,488.7 73.9,449.2" stroke="#b09a3a" stroke-width="1.25" fill="none" stroke-linecap="round" opacity="1.0"/><path d="M82.3,537.0 Q95.5,489.0 119.7,449.7" stroke="#b4a838" stroke-width="1.39" fill="none" stroke-linecap="round" opacity="1.0"/><path d="M83.0,537.0 Q88.6,484.4 95.5,441.4" stroke="#a89a2c" stroke-width="1.12" fill="none" stroke-linecap="round" opacity="1.0"/><path d="M95.5,441.4 q-2.0,-3 -5.0,8.3" stroke="#6e5232" stroke-width="1.1" fill="none"/><path d="M109.1,537.0 Q110.7,488.3 119.9,448.4" stroke="#a89a2c" stroke-width="1.54" fill="none" stroke-linecap="round" opacity="1.0"/><path d="M84.9,537.0 Q91.5,475.5 110.9,425.2" stroke="#88a02c" stroke-width="0.81" fill="none" stroke-linecap="round" opacity="1.0"/><path d="M110.9,425.2 q1.8,-3 4.5,5.5" stroke="#6e5232" stroke-width="1.1" fill="none"/><path d="M96.0,537.0 Q97.2,502.0 98.3,473.4" stroke="#7a902a" stroke-width="1.04" fill="none" stroke-linecap="round" opacity="1.0"/><path d="M94.1,537.0 Q91.5,484.4 85.0,441.4" stroke="#9aa830" stroke-width="1.45" fill="none" stroke-linecap="round" opacity="1.0"/><path d="M97.0,537.0 Q90.6,478.8 75.0,431.2" stroke="#b09a3a" stroke-width="1.83" fill="none" stroke-linecap="round" opacity="1.0"/><path d="M75.0,431.2 q3.4,-3 8.4,4.2" stroke="#6e5232" stroke-width="1.1" fill="none"/><path d="M90.4,537.0 Q101.3,478.9 120.1,431.3" stroke="#b4a838" stroke-width="0.96" fill="none" stroke-linecap="round" opacity="1.0"/><path d="M120.1,431.3 q-1.8,-3 -4.6,2.7" stroke="#6e5232" stroke-width="1.1" fill="none"/><path d="M106.0,537.0 Q99.1,499.2 88.0,468.2" stroke="#a89a2c" stroke-width="1.55" fill="none" stroke-linecap="round" opacity="1.0"/><path d="M83.9,537.0 Q89.2,482.6 97.5,438.2" stroke="#a89030" stroke-width="0.94" fill="none" stroke-linecap="round" opacity="1.0"/><path d="M103.7,537.0 Q99.3,494.6 93.2,460.0" stroke="#b4a838" stroke-width="1.38" fill="none" stroke-linecap="round" opacity="1.0"/><path d="M93.2,460.0 q1.6,-3 3.9,3.3" stroke="#6e5232" stroke-width="1.1" fill="none"/><path d="M87.1,537.0 Q97.1,508.8 114.8,485.7" stroke="#b4a838" stroke-width="1.50" fill="none" stroke-linecap="round" opacity="1.0"/><path d="M114.8,485.7 q1.4,-3 3.5,2.7" stroke="#6e5232" stroke-width="1.1" fill="none"/><path d="M92.7,537.0 Q90.2,482.6 88.3,438.0" stroke="#a89030" stroke-width="0.82" fill="none" stroke-linecap="round" opacity="1.0"/><path d="M106.3,537.0 Q97.2,485.8 72.6,443.8" stroke="#a89a2c" stroke-width="1.91" fill="none" stroke-linecap="round" opacity="1.0"/><path d="M83.8,537.0 Q90.5,481.6 111.7,436.3" stroke="#7a902a" stroke-width="1.85" fill="none" stroke-linecap="round" opacity="1.0"/><path d="M109.2,537.0 Q106.0,478.2 97.5,430.1" stroke="#a89030" stroke-width="1.77" fill="none" stroke-linecap="round" opacity="1.0"/><path d="M97.5,430.1 q-3.0,-3 -7.5,7.4" stroke="#6e5232" stroke-width="1.1" fill="none"/><path d="M105.4,537.0 Q101.4,504.2 87.0,477.3" stroke="#7a902a" stroke-width="1.24" fill="none" stroke-linecap="round" opacity="1.0"/><path d="M87.0,477.3 q-2.2,-3 -5.4,7.1" stroke="#6e5232" stroke-width="1.1" fill="none"/><path d="M83.1,537.0 Q81.1,486.3 82.9,444.8" stroke="#a89030" stroke-width="1.99" fill="none" stroke-linecap="round" opacity="1.0"/><path d="M82.5,537.0 Q80.5,507.3 78.5,483.1" stroke="#88a02c" stroke-width="1.59" fill="none" stroke-linecap="round" opacity="1.0"/><path d="M97.0,537.0 Q94.2,509.3 85.9,486.6" stroke="#7a902a" stroke-width="0.94" fill="none" stroke-linecap="round" opacity="1.0"/><path d="M85.9,486.6 q-1.5,-3 -3.7,2.8" stroke="#6e5232" stroke-width="1.1" fill="none"/><path d="M88.1,537.0 Q89.5,487.5 89.4,447.1" stroke="#a0a83a" stroke-width="1.25" fill="none" stroke-linecap="round" opacity="1.0"/><path d="M89.4,447.1 q1.9,-3 4.7,4.4" stroke="#6e5232" stroke-width="1.1" fill="none"/><path d="M97.2,537.0 Q95.7,488.1 87.6,448.1" stroke="#b4a838" stroke-width="1.57" fill="none" stroke-linecap="round" opacity="1.0"/><path d="M83.3,537.0 Q86.3,497.8 99.2,465.8" stroke="#9aa830" stroke-width="1.26" fill="none" stroke-linecap="round" opacity="1.0"/><path d="M106.7,537.0 Q103.1,491.0 95.7,453.4" stroke="#c8b440" stroke-width="1.30" fill="none" stroke-linecap="round" opacity="1.0"/><path d="M98.9,537.0 Q95.2,480.6 84.4,434.4" stroke="#8c8a2c" stroke-width="1.92" fill="none" stroke-linecap="round" opacity="1.0"/><path d="M103.4,537.0 Q91.6,498.4 62.7,466.8" stroke="#a0a83a" stroke-width="0.99" fill="none" stroke-linecap="round" opacity="1.0"/><path d="M92.7,537.0 Q98.6,497.3 118.4,464.9" stroke="#7a902a" stroke-width="1.93" fill="none" stroke-linecap="round" opacity="1.0"/><path d="M118.4,464.9 q-2.2,-3 -5.6,5.3" stroke="#6e5232" stroke-width="1.1" fill="none"/><path d="M110.2,537.0 Q101.9,488.2 76.6,448.3" stroke="#7a902a" stroke-width="1.89" fill="none" stroke-linecap="round" opacity="1.0"/><path d="M76.6,448.3 q-2.6,-3 -6.6,2.8" stroke="#6e5232" stroke-width="1.1" fill="none"/><path d="M99.7,537.0 Q95.1,478.5 90.2,430.7" stroke="#8c8a2c" stroke-width="0.99" fill="none" stroke-linecap="round" opacity="1.0"/><path d="M90.2,430.7 q-2.8,-3 -7.0,5.2" stroke="#6e5232" stroke-width="1.1" fill="none"/><path d="M88.9,537.0 Q92.8,484.6 98.3,441.7" stroke="#8c8a2c" stroke-width="1.78" fill="none" stroke-linecap="round" opacity="1.0"/><path d="M98.3,441.7 q3.0,-3 7.4,3.7" stroke="#6e5232" stroke-width="1.1" fill="none"/><path d="M84.4,537.0 Q95.0,498.9 118.1,467.8" stroke="#a89030" stroke-width="1.13" fill="none" stroke-linecap="round" opacity="1.0"/><path d="M102.8,537.0 Q102.8,478.2 105.7,430.1" stroke="#88a02c" stroke-width="1.03" fill="none" stroke-linecap="round" opacity="1.0"/><path d="M105.7,430.1 q-3.3,-3 -8.3,2.3" stroke="#6e5232" stroke-width="1.1" fill="none"/><path d="M82.8,537.0 Q82.0,484.8 78.3,442.1" stroke="#b4a838" stroke-width="1.07" fill="none" stroke-linecap="round" opacity="1.0"/><path d="M78.3,442.1 q-3.4,-3 -8.5,3.1" stroke="#6e5232" stroke-width="1.1" fill="none"/><path d="M88.0,537.0 Q98.2,486.8 123.8,445.7" stroke="#a89030" stroke-width="1.21" fill="none" stroke-linecap="round" opacity="1.0"/><path d="M106.2,537.0 Q95.3,476.8 65.8,427.6" stroke="#b09a3a" stroke-width="1.81" fill="none" stroke-linecap="round" opacity="1.0"/><path d="M94.3,537.0 Q97.3,483.7 108.8,440.0" stroke="#9aa830" stroke-width="1.58" fill="none" stroke-linecap="round" opacity="1.0"/><path d="M90.8,537.0 Q94.0,497.2 96.1,464.7" stroke="#a89a2c" stroke-width="1.58" fill="none" stroke-linecap="round" opacity="1.0"/><path d="M94.9,537.0 Q90.7,489.0 81.7,449.7" stroke="#b09a3a" stroke-width="1.38" fill="none" stroke-linecap="round" opacity="1.0"/><path d="M90.0,537.0 Q95.0,476.1 110.6,426.3" stroke="#a0a83a" stroke-width="1.52" fill="none" stroke-linecap="round" opacity="1.0"/><path d="M95.8,537.0 Q101.6,481.8 109.9,436.6" stroke="#88a02c" stroke-width="1.23" fill="none" stroke-linecap="round" opacity="1.0"/><path d="M92.0,537.0 Q85.2,495.6 68.5,461.8" stroke="#a0a83a" stroke-width="1.90" fill="none" stroke-linecap="round" opacity="1.0"/><path d="M68.5,461.8 q2.3,-3 5.7,3.5" stroke="#6e5232" stroke-width="1.1" fill="none"/><path d="M110.0,537.0 Q107.7,488.0 107.7,447.8" stroke="#a89030" stroke-width="0.83" fill="none" stroke-linecap="round" opacity="1.0"/><path d="M98.5,537.0 Q102.0,496.9 112.0,464.1" stroke="#a89a2c" stroke-width="1.45" fill="none" stroke-linecap="round" opacity="1.0"/><path d="M97.9,537.0 Q91.7,497.8 72.3,465.7" stroke="#c0a030" stroke-width="1.77" fill="none" stroke-linecap="round" opacity="1.0"/><path d="M72.3,465.7 q-2.5,-3 -6.3,6.0" stroke="#6e5232" stroke-width="1.1" fill="none"/><path d="M110.0,537.0 Q106.1,499.8 102.7,469.4" stroke="#8c8a2c" stroke-width="1.17" fill="none" stroke-linecap="round" opacity="1.0"/><path d="M83.5,477.9 Q99.9,462.2 116.4,470.9" stroke="#8a7a48" stroke-width="0.7" fill="none" opacity="0.85"/><path d="M83.9,472.1 Q72.2,464.7 60.5,487.0" stroke="#8a7a48" stroke-width="0.7" fill="none" opacity="0.85"/><path d="M103.9,503.1 Q114.8,494.0 125.7,526.9" stroke="#8a7a48" stroke-width="0.7" fill="none" opacity="0.85"/><path d="M95.6,472.9 Q103.9,469.5 112.1,484.6" stroke="#8a7a48" stroke-width="0.7" fill="none" opacity="0.85"/><path d="M106.6,472.8 Q122.4,461.2 138.3,493.9" stroke="#8a7a48" stroke-width="0.7" fill="none" opacity="0.85"/><path d="M96.7,479.9 Q81.2,473.1 65.7,484.6" stroke="#8a7a48" stroke-width="0.7" fill="none" opacity="0.85"/><path d="M88.4,520.1 Q74.5,514.2 60.7,534.0" stroke="#8a7a48" stroke-width="0.7" fill="none" opacity="0.85"/><path d="M93.7,510.6 Q110.9,496.9 128.1,502.6" stroke="#8a7a48" stroke-width="0.7" fill="none" opacity="0.85"/><path d="M90.1,520.6 Q73.4,510.8 56.7,542.5" stroke="#8a7a48" stroke-width="0.7" fill="none" opacity="0.85"/><path d="M98.5,465.3 Q90.7,454.4 82.8,459.1" stroke="#8a7a48" stroke-width="0.7" fill="none" opacity="0.85"/><path d="M98.7,488.0 Q86.4,481.0 74.2,495.8" stroke="#8a7a48" stroke-width="0.7" fill="none" opacity="0.85"/><path d="M93.1,465.2 Q109.9,453.7 126.8,477.1" stroke="#8a7a48" stroke-width="0.7" fill="none" opacity="0.85"/><path d="M106.6,496.4 Q118.1,487.5 129.7,519.9" stroke="#8a7a48" stroke-width="0.7" fill="none" opacity="0.85"/><path d="M95.5,515.8 Q87.5,505.6 79.5,538.9" stroke="#8a7a48" stroke-width="0.7" fill="none" opacity="0.85"/><path d="M110.3,473.7 Q125.5,470.1 140.8,491.2" stroke="#8a7a48" stroke-width="0.7" fill="none" opacity="0.85"/><path d="M107.8,467.8 Q91.2,462.6 74.7,473.6" stroke="#8a7a48" stroke-width="0.7" fill="none" opacity="0.85"/><path d="M99.2,520.5 Q108.3,515.1 117.3,521.7" stroke="#8a7a48" stroke-width="0.7" fill="none" opacity="0.85"/><path d="M100.1,459.1 Q89.9,454.7 79.8,467.8" stroke="#8a7a48" stroke-width="0.7" fill="none" opacity="0.85"/><path d="M81.0,471.7 Q65.1,468.0 49.1,490.5" stroke="#8a7a48" stroke-width="0.7" fill="none" opacity="0.85"/><path d="M99.4,493.2 Q115.8,489.5 132.2,507.5" stroke="#8a7a48" stroke-width="0.7" fill="none" opacity="0.85"/><path d="M81.6,518.2 Q91.0,508.2 100.4,532.1" stroke="#8a7a48" stroke-width="0.7" fill="none" opacity="0.85"/><path d="M87.3,492.1 Q100.0,477.1 112.8,487.6" stroke="#8a7a48" stroke-width="0.7" fill="none" opacity="0.85"/><path d="M145.5,537.0 Q144.4,475.6 144.4,425.3" stroke="#c8b440" stroke-width="1.60" fill="none" stroke-linecap="round" opacity="1.0"/><path d="M144.4,425.3 q-2.8,-3 -7.1,2.7" stroke="#6e5232" stroke-width="1.1" fill="none"/><path d="M148.8,537.0 Q152.0,507.3 155.2,483.1" stroke="#a0a83a" stroke-width="1.33" fill="none" stroke-linecap="round" opacity="1.0"/><path d="M161.5,537.0 Q158.3,480.3 156.2,433.9" stroke="#c4a22c" stroke-width="0.81" fill="none" stroke-linecap="round" opacity="1.0"/><path d="M165.0,537.0 Q155.7,491.4 136.9,454.1" stroke="#a89a2c" stroke-width="1.92" fill="none" stroke-linecap="round" opacity="1.0"/><path d="M171.2,537.0 Q171.1,489.0 176.4,449.7" stroke="#88a02c" stroke-width="1.04" fill="none" stroke-linecap="round" opacity="1.0"/><path d="M146.2,537.0 Q160.2,489.3 190.0,450.2" stroke="#a89030" stroke-width="1.34" fill="none" stroke-linecap="round" opacity="1.0"/><path d="M190.0,450.2 q-1.5,-3 -3.8,2.7" stroke="#6e5232" stroke-width="1.1" fill="none"/><path d="M160.1,537.0 Q163.6,477.5 173.0,428.7" stroke="#c8b440" stroke-width="1.51" fill="none" stroke-linecap="round" opacity="1.0"/><path d="M173.0,428.7 q-1.3,-3 -3.2,8.9" stroke="#6e5232" stroke-width="1.1" fill="none"/><path d="M150.4,537.0 Q159.8,481.7 177.5,436.4" stroke="#8c8a2c" stroke-width="0.97" fill="none" stroke-linecap="round" opacity="1.0"/><path d="M177.5,436.4 q-3.2,-3 -7.9,4.7" stroke="#6e5232" stroke-width="1.1" fill="none"/><path d="M146.3,537.0 Q147.5,474.9 151.7,424.1" stroke="#7a902a" stroke-width="1.18" fill="none" stroke-linecap="round" opacity="1.0"/><path d="M142.8,537.0 Q156.9,488.0 193.0,448.0" stroke="#88a02c" stroke-width="1.21" fill="none" stroke-linecap="round" opacity="1.0"/><path d="M137.3,537.0 Q142.0,487.3 149.2,446.6" stroke="#b4a838" stroke-width="1.53" fill="none" stroke-linecap="round" opacity="1.0"/><path d="M149.2,446.6 q2.5,-3 6.3,4.5" stroke="#6e5232" stroke-width="1.1" fill="none"/><path d="M153.0,537.0 Q148.7,495.4 132.2,461.5" stroke="#8c8a2c" stroke-width="2.00" fill="none" stroke-linecap="round" opacity="1.0"/><path d="M170.4,537.0 Q168.8,475.0 162.9,424.3" stroke="#c4a22c" stroke-width="0.90" fill="none" stroke-linecap="round" opacity="1.0"/><path d="M162.9,424.3 q2.9,-3 7.2,4.3" stroke="#6e5232" stroke-width="1.1" fill="none"/><path d="M170.2,537.0 Q162.0,485.6 148.0,443.6" stroke="#7a902a" stroke-width="0.96" fill="none" stroke-linecap="round" opacity="1.0"/><path d="M154.7,537.0 Q156.1,489.2 162.4,450.1" stroke="#7a902a" stroke-width="1.99" fill="none" stroke-linecap="round" opacity="1.0"/><path d="M157.1,537.0 Q148.3,500.4 130.8,470.5" stroke="#a89030" stroke-width="1.09" fill="none" stroke-linecap="round" opacity="1.0"/><path d="M166.2,537.0 Q155.3,488.7 135.4,449.2" stroke="#a8a034" stroke-width="1.28" fill="none" stroke-linecap="round" opacity="1.0"/><path d="M170.2,537.0 Q178.3,476.6 193.9,427.2" stroke="#7a902a" stroke-width="1.89" fill="none" stroke-linecap="round" opacity="1.0"/><path d="M158.6,537.0 Q163.8,477.0 177.0,427.9" stroke="#a8a034" stroke-width="0.97" fill="none" stroke-linecap="round" opacity="1.0"/><path d="M177.0,427.9 q1.6,-3 4.0,5.6" stroke="#6e5232" stroke-width="1.1" fill="none"/><path d="M143.5,537.0 Q149.9,481.4 162.9,435.9" stroke="#a8a034" stroke-width="1.67" fill="none" stroke-linecap="round" opacity="1.0"/><path d="M149.1,537.0 Q151.1,476.0 157.8,426.0" stroke="#b09a3a" stroke-width="1.90" fill="none" stroke-linecap="round" opacity="1.0"/><path d="M149.3,537.0 Q147.0,503.5 142.3,476.1" stroke="#7a902a" stroke-width="1.29" fill="none" stroke-linecap="round" opacity="1.0"/><path d="M142.3,476.1 q-3.4,-3 -8.4,5.7" stroke="#6e5232" stroke-width="1.1" fill="none"/><path d="M154.0,537.0 Q153.0,504.2 153.1,477.4" stroke="#a8a034" stroke-width="1.16" fill="none" stroke-linecap="round" opacity="1.0"/><path d="M150.3,537.0 Q151.1,481.1 149.1,435.4" stroke="#b09a3a" stroke-width="1.85" fill="none" stroke-linecap="round" opacity="1.0"/><path d="M149.1,435.4 q1.8,-3 4.5,8.1" stroke="#6e5232" stroke-width="1.1" fill="none"/><path d="M171.9,537.0 Q168.8,476.0 156.3,426.1" stroke="#8c8a2c" stroke-width="1.17" fill="none" stroke-linecap="round" opacity="1.0"/><path d="M156.3,426.1 q-3.3,-3 -8.3,9.0" stroke="#6e5232" stroke-width="1.1" fill="none"/><path d="M162.2,537.0 Q169.2,482.5 184.7,437.9" stroke="#b09a3a" stroke-width="1.77" fill="none" stroke-linecap="round" opacity="1.0"/><path d="M184.7,437.9 q2.6,-3 6.4,8.3" stroke="#6e5232" stroke-width="1.1" fill="none"/><path d="M136.9,537.0 Q149.7,476.3 179.0,426.7" stroke="#c8b440" stroke-width="0.80" fill="none" stroke-linecap="round" opacity="1.0"/><path d="M179.0,426.7 q1.3,-3 3.1,3.2" stroke="#6e5232" stroke-width="1.1" fill="none"/><path d="M150.6,537.0 Q150.3,488.1 154.4,448.0" stroke="#7a902a" stroke-width="1.50" fill="none" stroke-linecap="round" opacity="1.0"/><path d="M154.4,448.0 q-2.3,-3 -5.7,4.2" stroke="#6e5232" stroke-width="1.1" fill="none"/><path d="M146.0,537.0 Q143.0,498.2 132.3,466.5" stroke="#88a02c" stroke-width="1.04" fill="none" stroke-linecap="round" opacity="1.0"/><path d="M160.7,537.0 Q151.8,480.9 126.2,435.0" stroke="#c8b440" stroke-width="0.82" fill="none" stroke-linecap="round" opacity="1.0"/><path d="M160.9,537.0 Q160.3,488.2 162.3,448.2" stroke="#a8a034" stroke-width="1.58" fill="none" stroke-linecap="round" opacity="1.0"/><path d="M162.3,448.2 q3.5,-3 8.8,3.9" stroke="#6e5232" stroke-width="1.1" fill="none"/><path d="M149.8,537.0 Q162.3,481.5 185.3,436.0" stroke="#c4a22c" stroke-width="1.33" fill="none" stroke-linecap="round" opacity="1.0"/><path d="M185.3,436.0 q-3.3,-3 -8.2,2.8" stroke="#6e5232" stroke-width="1.1" fill="none"/><path d="M160.6,537.0 Q154.9,495.7 141.4,462.0" stroke="#c0a030" stroke-width="1.75" fill="none" stroke-linecap="round" opacity="1.0"/><path d="M141.4,462.0 q-2.6,-3 -6.5,3.6" stroke="#6e5232" stroke-width="1.1" fill="none"/><path d="M145.0,537.0 Q157.3,493.5 188.7,457.9" stroke="#a0a83a" stroke-width="1.60" fill="none" stroke-linecap="round" opacity="1.0"/><path d="M188.7,457.9 q-2.3,-3 -5.6,5.7" stroke="#6e5232" stroke-width="1.1" fill="none"/><path d="M154.2,537.0 Q144.7,490.7 125.3,452.9" stroke="#c0a030" stroke-width="1.31" fill="none" stroke-linecap="round" opacity="1.0"/><path d="M139.6,537.0 Q154.4,477.7 193.2,429.1" stroke="#7a902a" stroke-width="1.46" fill="none" stroke-linecap="round" opacity="1.0"/><path d="M193.2,429.1 q-3.6,-3 -8.9,2.2" stroke="#6e5232" stroke-width="1.1" fill="none"/><path d="M151.5,537.0 Q160.6,483.0 176.0,438.8" stroke="#c8b440" stroke-width="0.87" fill="none" stroke-linecap="round" opacity="1.0"/><path d="M176.0,438.8 q2.0,-3 4.9,5.4" stroke="#6e5232" stroke-width="1.1" fill="none"/><path d="M134.3,537.0 Q137.4,500.6 143.0,470.7" stroke="#8c8a2c" stroke-width="1.69" fill="none" stroke-linecap="round" opacity="1.0"/><path d="M156.8,537.0 Q162.7,476.1 177.5,426.3" stroke="#a0a83a" stroke-width="1.33" fill="none" stroke-linecap="round" opacity="1.0"/><path d="M164.5,537.0 Q168.8,478.8 179.0,431.1" stroke="#88a02c" stroke-width="1.82" fill="none" stroke-linecap="round" opacity="1.0"/><path d="M143.5,537.0 Q139.6,507.5 136.6,483.4" stroke="#c8b440" stroke-width="1.85" fill="none" stroke-linecap="round" opacity="1.0"/><path d="M136.6,483.4 q-2.7,-3 -6.6,6.3" stroke="#6e5232" stroke-width="1.1" fill="none"/><path d="M165.2,537.0 Q164.6,495.9 158.3,462.2" stroke="#a8a034" stroke-width="0.89" fill="none" stroke-linecap="round" opacity="1.0"/><path d="M155.8,537.0 Q156.3,498.9 161.1,467.8" stroke="#9aa830" stroke-width="0.86" fill="none" stroke-linecap="round" opacity="1.0"/><path d="M161.1,467.8 q3.2,-3 7.9,7.2" stroke="#6e5232" stroke-width="1.1" fill="none"/><path d="M164.2,537.0 Q168.7,486.9 177.1,445.9" stroke="#8c8a2c" stroke-width="1.01" fill="none" stroke-linecap="round" opacity="1.0"/><path d="M177.1,445.9 q-2.4,-3 -6.0,6.6" stroke="#6e5232" stroke-width="1.1" fill="none"/><path d="M156.8,537.0 Q156.1,480.9 154.7,435.0" stroke="#7a902a" stroke-width="1.06" fill="none" stroke-linecap="round" opacity="1.0"/><path d="M134.7,537.0 Q143.4,497.6 157.2,465.3" stroke="#9aa830" stroke-width="1.69" fill="none" stroke-linecap="round" opacity="1.0"/><path d="M172.4,537.0 Q157.5,483.8 122.2,440.3" stroke="#b4a838" stroke-width="1.27" fill="none" stroke-linecap="round" opacity="1.0"/><path d="M122.2,440.3 q3.4,-3 8.6,8.8" stroke="#6e5232" stroke-width="1.1" fill="none"/><path d="M160.2,537.0 Q164.7,507.8 173.6,483.9" stroke="#c0a030" stroke-width="1.10" fill="none" stroke-linecap="round" opacity="1.0"/><path d="M142.7,537.0 Q145.9,505.6 155.2,480.0" stroke="#a89030" stroke-width="1.94" fill="none" stroke-linecap="round" opacity="1.0"/><path d="M141.7,537.0 Q141.3,490.2 133.5,451.8" stroke="#7a902a" stroke-width="1.21" fill="none" stroke-linecap="round" opacity="1.0"/><path d="M167.6,537.0 Q166.5,503.4 164.5,475.9" stroke="#a89a2c" stroke-width="1.92" fill="none" stroke-linecap="round" opacity="1.0"/><path d="M164.5,475.9 q3.1,-3 7.7,3.5" stroke="#6e5232" stroke-width="1.1" fill="none"/><path d="M146.9,537.0 Q142.0,488.8 135.2,449.3" stroke="#88a02c" stroke-width="1.28" fill="none" stroke-linecap="round" opacity="1.0"/><path d="M163.4,537.0 Q161.7,486.6 156.0,445.3" stroke="#9aa830" stroke-width="1.84" fill="none" stroke-linecap="round" opacity="1.0"/><path d="M156.0,445.3 q2.2,-3 5.5,2.3" stroke="#6e5232" stroke-width="1.1" fill="none"/><path d="M144.1,537.0 Q158.0,491.6 190.3,454.4" stroke="#7a902a" stroke-width="1.11" fill="none" stroke-linecap="round" opacity="1.0"/><path d="M190.3,454.4 q-1.8,-3 -4.6,4.5" stroke="#6e5232" stroke-width="1.1" fill="none"/><path d="M139.1,537.0 Q155.3,482.2 189.4,437.4" stroke="#7a902a" stroke-width="1.81" fill="none" stroke-linecap="round" opacity="1.0"/><path d="M189.4,437.4 q3.2,-3 8.0,5.1" stroke="#6e5232" stroke-width="1.1" fill="none"/><path d="M167.2,537.0 Q163.4,479.3 149.5,432.1" stroke="#a0a83a" stroke-width="0.87" fill="none" stroke-linecap="round" opacity="1.0"/><path d="M149.5,432.1 q-2.4,-3 -5.9,3.3" stroke="#6e5232" stroke-width="1.1" fill="none"/><path d="M153.6,537.0 Q146.5,478.1 131.2,429.9" stroke="#c8b440" stroke-width="1.45" fill="none" stroke-linecap="round" opacity="1.0"/><path d="M131.2,429.9 q2.0,-3 4.9,5.2" stroke="#6e5232" stroke-width="1.1" fill="none"/><path d="M148.1,537.0 Q159.4,500.9 185.4,471.4" stroke="#c8b440" stroke-width="1.29" fill="none" stroke-linecap="round" opacity="1.0"/><path d="M185.4,471.4 q1.7,-3 4.4,4.0" stroke="#6e5232" stroke-width="1.1" fill="none"/><path d="M146.8,537.0 Q142.1,475.1 137.5,424.5" stroke="#a0a83a" stroke-width="1.38" fill="none" stroke-linecap="round" opacity="1.0"/><path d="M137.5,424.5 q2.8,-3 7.0,2.5" stroke="#6e5232" stroke-width="1.1" fill="none"/><path d="M167.1,537.0 Q164.1,482.0 162.2,437.1" stroke="#c4a22c" stroke-width="1.84" fill="none" stroke-linecap="round" opacity="1.0"/><path d="M162.2,437.1 q1.4,-3 3.5,5.0" stroke="#6e5232" stroke-width="1.1" fill="none"/><path d="M148.7,537.0 Q141.3,483.0 126.3,438.8" stroke="#c8b440" stroke-width="1.64" fill="none" stroke-linecap="round" opacity="1.0"/><path d="M126.3,438.8 q1.7,-3 4.2,7.4" stroke="#6e5232" stroke-width="1.1" fill="none"/><path d="M147.0,537.0 Q155.9,487.7 173.3,447.3" stroke="#a89a2c" stroke-width="1.77" fill="none" stroke-linecap="round" opacity="1.0"/><path d="M173.3,447.3 q2.9,-3 7.2,5.9" stroke="#6e5232" stroke-width="1.1" fill="none"/><path d="M161.0,537.0 Q149.3,483.2 123.7,439.2" stroke="#b4a838" stroke-width="1.89" fill="none" stroke-linecap="round" opacity="1.0"/><path d="M123.7,439.2 q2.4,-3 6.0,6.1" stroke="#6e5232" stroke-width="1.1" fill="none"/><path d="M151.8,537.0 Q148.0,479.2 145.4,431.9" stroke="#a89030" stroke-width="1.19" fill="none" stroke-linecap="round" opacity="1.0"/><path d="M145.4,431.9 q1.8,-3 4.6,6.7" stroke="#6e5232" stroke-width="1.1" fill="none"/><path d="M140.4,537.0 Q146.9,491.3 155.8,454.0" stroke="#a89030" stroke-width="0.84" fill="none" stroke-linecap="round" opacity="1.0"/><path d="M141.7,537.0 Q137.6,475.2 127.4,424.6" stroke="#b09a3a" stroke-width="1.30" fill="none" stroke-linecap="round" opacity="1.0"/><path d="M127.4,424.6 q3.3,-3 8.3,4.7" stroke="#6e5232" stroke-width="1.1" fill="none"/><path d="M169.4,537.0 Q156.0,476.6 124.7,427.1" stroke="#c0a030" stroke-width="1.39" fill="none" stroke-linecap="round" opacity="1.0"/><path d="M124.7,427.1 q-1.6,-3 -3.9,3.3" stroke="#6e5232" stroke-width="1.1" fill="none"/><path d="M142.1,537.0 Q148.8,478.7 171.0,431.1" stroke="#8c8a2c" stroke-width="1.98" fill="none" stroke-linecap="round" opacity="1.0"/><path d="M171.0,431.1 q3.2,-3 8.1,7.4" stroke="#6e5232" stroke-width="1.1" fill="none"/><path d="M136.2,537.0 Q150.5,503.3 181.3,475.7" stroke="#c4a22c" stroke-width="1.20" fill="none" stroke-linecap="round" opacity="1.0"/><path d="M181.3,475.7 q-2.0,-3 -4.9,7.0" stroke="#6e5232" stroke-width="1.1" fill="none"/><path d="M160.8,537.0 Q165.3,507.2 171.4,482.8" stroke="#9aa830" stroke-width="1.20" fill="none" stroke-linecap="round" opacity="1.0"/><path d="M165.2,537.0 Q158.1,484.0 143.1,440.6" stroke="#a0a83a" stroke-width="1.44" fill="none" stroke-linecap="round" opacity="1.0"/><path d="M143.1,440.6 q-2.1,-3 -5.2,6.9" stroke="#6e5232" stroke-width="1.1" fill="none"/><path d="M169.7,537.0 Q173.3,502.9 175.1,475.1" stroke="#b4a838" stroke-width="1.86" fill="none" stroke-linecap="round" opacity="1.0"/><path d="M175.1,475.1 q2.4,-3 6.1,6.8" stroke="#6e5232" stroke-width="1.1" fill="none"/><path d="M134.6,537.0 Q144.2,483.9 166.8,440.5" stroke="#a89030" stroke-width="1.10" fill="none" stroke-linecap="round" opacity="1.0"/><path d="M164.9,537.0 Q159.5,495.6 150.2,461.6" stroke="#7a902a" stroke-width="1.62" fill="none" stroke-linecap="round" opacity="1.0"/><path d="M150.2,461.6 q-3.2,-3 -8.1,7.8" stroke="#6e5232" stroke-width="1.1" fill="none"/><path d="M155.7,537.0 Q155.2,495.2 152.3,460.9" stroke="#c0a030" stroke-width="1.76" fill="none" stroke-linecap="round" opacity="1.0"/><path d="M152.3,460.9 q2.7,-3 6.7,4.0" stroke="#6e5232" stroke-width="1.1" fill="none"/><path d="M159.1,537.0 Q169.8,485.9 192.1,444.1" stroke="#c4a22c" stroke-width="1.96" fill="none" stroke-linecap="round" opacity="1.0"/><path d="M192.1,444.1 q2.2,-3 5.5,6.4" stroke="#6e5232" stroke-width="1.1" fill="none"/><path d="M148.9,537.0 Q159.2,508.5 189.2,485.1" stroke="#7a902a" stroke-width="2.00" fill="none" stroke-linecap="round" opacity="1.0"/><path d="M140.8,537.0 Q144.0,488.4 147.7,448.6" stroke="#a89a2c" stroke-width="1.20" fill="none" stroke-linecap="round" opacity="1.0"/><path d="M147.7,448.6 q1.6,-3 4.0,2.5" stroke="#6e5232" stroke-width="1.1" fill="none"/><path d="M150.6,537.0 Q159.7,492.7 184.6,456.5" stroke="#7a902a" stroke-width="1.54" fill="none" stroke-linecap="round" opacity="1.0"/><path d="M172.2,537.0 Q165.8,494.6 150.0,459.9" stroke="#c4a22c" stroke-width="1.84" fill="none" stroke-linecap="round" opacity="1.0"/><path d="M150.0,459.9 q-2.5,-3 -6.3,8.3" stroke="#6e5232" stroke-width="1.1" fill="none"/><path d="M168.2,537.0 Q165.2,476.9 153.1,427.7" stroke="#c0a030" stroke-width="1.48" fill="none" stroke-linecap="round" opacity="1.0"/><path d="M153.1,427.7 q1.9,-3 4.6,3.6" stroke="#6e5232" stroke-width="1.1" fill="none"/><path d="M152.3,537.0 Q149.3,479.4 148.3,432.2" stroke="#b4a838" stroke-width="0.81" fill="none" stroke-linecap="round" opacity="1.0"/><path d="M159.8,537.0 Q147.1,481.5 122.3,436.1" stroke="#c4a22c" stroke-width="1.04" fill="none" stroke-linecap="round" opacity="1.0"/><path d="M152.4,537.0 Q151.8,499.6 151.8,469.1" stroke="#a8a034" stroke-width="1.06" fill="none" stroke-linecap="round" opacity="1.0"/><path d="M166.1,537.0 Q157.5,477.7 140.2,429.1" stroke="#88a02c" stroke-width="1.99" fill="none" stroke-linecap="round" opacity="1.0"/><path d="M140.2,429.1 q-1.6,-3 -4.1,2.2" stroke="#6e5232" stroke-width="1.1" fill="none"/><path d="M139.8,537.0 Q136.4,475.5 130.6,425.3" stroke="#c4a22c" stroke-width="1.47" fill="none" stroke-linecap="round" opacity="1.0"/><path d="M130.6,425.3 q1.2,-3 3.1,3.5" stroke="#6e5232" stroke-width="1.1" fill="none"/><path d="M171.4,537.0 Q158.0,487.9 122.8,447.8" stroke="#c4a22c" stroke-width="1.91" fill="none" stroke-linecap="round" opacity="1.0"/><path d="M122.8,447.8 q3.1,-3 7.8,7.8" stroke="#6e5232" stroke-width="1.1" fill="none"/><path d="M163.7,537.0 Q174.3,475.9 193.0,426.0" stroke="#a89a2c" stroke-width="1.81" fill="none" stroke-linecap="round" opacity="1.0"/><path d="M193.0,426.0 q-1.2,-3 -3.1,3.0" stroke="#6e5232" stroke-width="1.1" fill="none"/><path d="M145.9,537.0 Q153.5,487.2 174.2,446.4" stroke="#a89030" stroke-width="1.55" fill="none" stroke-linecap="round" opacity="1.0"/><path d="M174.2,446.4 q1.9,-3 4.7,8.3" stroke="#6e5232" stroke-width="1.1" fill="none"/><path d="M145.9,537.0 Q141.7,481.5 128.8,436.0" stroke="#88a02c" stroke-width="0.86" fill="none" stroke-linecap="round" opacity="1.0"/><path d="M128.8,436.0 q2.8,-3 7.1,3.2" stroke="#6e5232" stroke-width="1.1" fill="none"/><path d="M137.2,537.0 Q135.5,481.9 132.3,436.9" stroke="#a8a034" stroke-width="1.28" fill="none" stroke-linecap="round" opacity="1.0"/><path d="M132.3,436.9 q-2.0,-3 -4.9,5.8" stroke="#6e5232" stroke-width="1.1" fill="none"/><path d="M171.1,537.0 Q160.1,503.1 136.7,475.3" stroke="#c4a22c" stroke-width="1.51" fill="none" stroke-linecap="round" opacity="1.0"/><path d="M145.9,537.0 Q148.9,505.9 156.1,480.5" stroke="#c4a22c" stroke-width="1.65" fill="none" stroke-linecap="round" opacity="1.0"/><path d="M156.1,480.5 q1.4,-3 3.4,4.7" stroke="#6e5232" stroke-width="1.1" fill="none"/><path d="M169.8,537.0 Q174.6,498.3 185.5,466.6" stroke="#a8a034" stroke-width="0.98" fill="none" stroke-linecap="round" opacity="1.0"/><path d="M148.1,537.0 Q154.7,478.2 168.4,430.1" stroke="#c8b440" stroke-width="1.83" fill="none" stroke-linecap="round" opacity="1.0"/><path d="M137.9,477.3 Q122.9,470.1 108.0,482.5" stroke="#8a7a48" stroke-width="0.7" fill="none" opacity="0.85"/><path d="M153.1,504.2 Q166.0,484.4 178.9,495.7" stroke="#8a7a48" stroke-width="0.7" fill="none" opacity="0.85"/><path d="M150.9,488.0 Q164.3,483.7 177.8,510.6" stroke="#8a7a48" stroke-width="0.7" fill="none" opacity="0.85"/><path d="M146.1,513.0 Q159.9,502.4 173.6,509.6" stroke="#8a7a48" stroke-width="0.7" fill="none" opacity="0.85"/><path d="M135.1,460.3 Q150.1,456.3 165.2,481.7" stroke="#8a7a48" stroke-width="0.7" fill="none" opacity="0.85"/><path d="M166.6,483.9 Q149.7,473.7 132.9,502.9" stroke="#8a7a48" stroke-width="0.7" fill="none" opacity="0.85"/><path d="M172.7,527.2 Q188.9,521.9 205.1,542.1" stroke="#8a7a48" stroke-width="0.7" fill="none" opacity="0.85"/><path d="M151.2,492.3 Q167.3,483.6 183.5,489.1" stroke="#8a7a48" stroke-width="0.7" fill="none" opacity="0.85"/><path d="M135.9,490.9 Q120.6,485.7 105.2,498.1" stroke="#8a7a48" stroke-width="0.7" fill="none" opacity="0.85"/><path d="M167.2,474.9 Q180.2,464.7 193.2,496.6" stroke="#8a7a48" stroke-width="0.7" fill="none" opacity="0.85"/><path d="M165.5,518.8 Q154.6,507.2 143.8,541.3" stroke="#8a7a48" stroke-width="0.7" fill="none" opacity="0.85"/><path d="M166.4,523.3 Q157.0,512.7 147.7,526.9" stroke="#8a7a48" stroke-width="0.7" fill="none" opacity="0.85"/><path d="M169.1,526.7 Q186.5,515.2 203.8,523.9" stroke="#8a7a48" stroke-width="0.7" fill="none" opacity="0.85"/><path d="M155.4,458.3 Q144.1,449.0 132.8,476.9" stroke="#8a7a48" stroke-width="0.7" fill="none" opacity="0.85"/><path d="M159.3,516.5 Q168.9,512.0 178.5,533.4" stroke="#8a7a48" stroke-width="0.7" fill="none" opacity="0.85"/><path d="M134.7,511.4 Q144.7,502.8 154.8,513.4" stroke="#8a7a48" stroke-width="0.7" fill="none" opacity="0.85"/><path d="M140.8,458.3 Q155.3,452.0 169.7,474.1" stroke="#8a7a48" stroke-width="0.7" fill="none" opacity="0.85"/><path d="M163.8,517.2 Q172.0,510.1 180.2,516.5" stroke="#8a7a48" stroke-width="0.7" fill="none" opacity="0.85"/><path d="M144.2,522.1 Q152.9,507.8 161.6,515.4" stroke="#8a7a48" stroke-width="0.7" fill="none" opacity="0.85"/><path d="M142.4,489.1 Q152.8,483.5 163.1,509.6" stroke="#8a7a48" stroke-width="0.7" fill="none" opacity="0.85"/><path d="M160.1,498.3 Q143.2,488.6 126.4,501.9" stroke="#8a7a48" stroke-width="0.7" fill="none" opacity="0.85"/><path d="M150.9,527.2 Q139.2,520.1 127.6,527.1" stroke="#8a7a48" stroke-width="0.7" fill="none" opacity="0.85"/>
<path d="M59,535.30 L206,537.80 L206,541.10 L59,538.60 Z" fill="#4a4a50"/>
<line x1="59" y1="535.30" x2="206" y2="537.80" stroke="#aeaeb0" stroke-width="1.4"/>
<path d="M72.5,536.1 L124.4,536.1 C122.9,544.0 119.4,550.5 109.4,550.5 L87.5,550.5 C77.5,550.5 74.0,544.0 72.5,536.1 Z" fill="#5eaac0"/><path d="M75.5,542.1 L121.4,542.1 M77.5,544.6 L119.4,544.6 M80.5,547.1 L116.4,547.1" stroke="#8cc8d8" stroke-width="0.7" opacity="0.35"/><rect x="72.5" y="536.1" width="51.9" height="3.3" fill="#7cc0dc"/><path d="M126.4,537.0 L177.5,537.0 C176.0,545.0 172.5,551.6 162.5,551.6 L141.4,551.6 C131.4,551.6 127.9,545.0 126.4,537.0 Z" fill="#50c440"/><path d="M129.4,543.0 L174.5,543.0 M131.4,545.5 L172.5,545.5 M134.4,548.0 L169.5,548.0" stroke="#7ad86a" stroke-width="0.7" opacity="0.35"/><rect x="126.4" y="537.0" width="51.1" height="3.3" fill="#6cd8a0"/>
<line x1="59" y1="538.60" x2="206" y2="541.10" stroke="#bcbcb8" stroke-width="1.7"/>
</g>
<clipPath id="cph"><rect x="216" y="424.2" width="148.80" height="234.40"/></clipPath>
<linearGradient id="bgh" x1="0" y1="0" x2="1" y2="0"><stop offset="0" stop-color="#52515a"/><stop offset="0.05" stop-color="#52515a"/><stop offset="0.55" stop-color="#424147"/><stop offset="1" stop-color="#424147"/></linearGradient>
<linearGradient id="bvh" x1="0" y1="0" x2="0" y2="1"><stop offset="0" stop-color="#28272c" stop-opacity="0"/><stop offset="0.6" stop-color="#28272c" stop-opacity="0.22"/><stop offset="1" stop-color="#28272c" stop-opacity="0.78"/></linearGradient>
<radialGradient id="rbh" cx="0.7" cy="0.2" r="0.9"><stop offset="0" stop-color="#262b38"/><stop offset="1" stop-color="#1d212b"/></radialGradient>
<linearGradient id="loh" x1="0" y1="0" x2="0" y2="1"><stop offset="0" stop-color="#1c1d25"/><stop offset="0.25" stop-color="#18191f"/><stop offset="0.6" stop-color="#16161a"/><stop offset="1" stop-color="#141416"/></linearGradient>
<g clip-path="url(#cph)">
<rect x="216" y="424.2" width="148.80" height="114.50" fill="url(#bgh)"/>
<rect x="216" y="424.2" width="148.80" height="114.50" fill="url(#bvh)"/>
<path d="M216,534.60 L364.8,538.80 L364.8,658.6 L216,658.6 Z" fill="url(#loh)"/>
<path d="M216,539.0 L225.1,540.0 Q232.2,567.0 226.4,587.0 Q221.2,595.0 216,595.0 Z" fill="#1c2030"/>
<path d="M326.8,539.0 Q322.8,564.0 328.8,584.0 L338.8,584.0 L338.8,539.0 Z" fill="#1c1f2c"/>
<path d="M343.8,539.0 Q334.6,545.0 336.8,569.0 Q337.4,589.0 342.4,595.0 L364.8,603.0 L364.8,539.0 Z" fill="url(#rbh)"/>
<path d="M362.8,544.0 Q356.4,550.0 352.2,562.0" stroke="#56607a" stroke-width="0.7" fill="none"/>
<rect x="342.20" y="591.50" width="22.60" height="67.10" fill="#201b15"/>
<rect x="342.20" y="591.50" width="3.5" height="67.10" fill="#342a1e"/>
<rect x="351.31" y="601.50" width="4" height="57.10" fill="#0e0d0c"/>
<path d="M342.70,592.00 L355.31,602.00 L355.31,607.00 L342.70,598.00 Z" fill="#7e6244"/>
<path d="M344.20,593.50 L355.31,603.50" stroke="#a88660" stroke-width="1.2" opacity="0.8"/>
<path d="M342.70,617.50 L355.31,627.50 L355.31,632.50 L342.70,623.50 Z" fill="#7e6244"/>
<path d="M344.20,619.00 L355.31,629.00" stroke="#a88660" stroke-width="1.2" opacity="0.8"/>
<path d="M342.70,641.50 L355.31,651.50 L355.31,656.50 L342.70,647.50 Z" fill="#7e6244"/>
<path d="M344.20,643.00 L355.31,653.00" stroke="#a88660" stroke-width="1.2" opacity="0.8"/>
<rect x="343.20" y="649.60" width="13.11" height="9" fill="#5e4830"/>
<rect x="355.31" y="603.50" width="9.49" height="55.10" fill="#b0642e"/>
<rect x="357.68" y="603.50" width="2.85" height="55.10" fill="#c47a40" opacity="0.7"/>
<path d="M353.31,599.50 L364.8,608.50 L364.8,585.50 L353.31,585.50 Z" fill="#1d212b"/>
<path d="M243.7,549.0 L243.6,551.3 L244.5,553.6 L244.8,555.9 L245.0,558.2 L245.4,560.6 L245.4,562.9 L246.1,565.2 L246.3,567.5 L246.4,569.8 L246.6,572.1 L246.5,574.4 L247.3,576.8 L247.1,579.1 L247.9,581.4 L247.7,583.7 L248.2,586.0 L248.8,586.0 L248.8,583.7 L249.3,581.4 L249.0,579.1 L249.6,576.8 L249.3,574.4 L249.9,572.1 L250.1,569.8 L250.5,567.5 L250.8,565.2 L250.6,562.9 L251.0,560.6 L251.2,558.2 L251.5,555.9 L251.7,553.6 L251.3,551.3 L251.8,549.0 Z" fill="#84692e"/><path d="M247.7,549.0 L248.0,551.3 L248.3,553.6 L248.5,555.9 L248.7,558.2 L248.7,560.6 L248.1,562.9 L247.9,565.2 L248.7,567.5 L248.8,569.8 L248.4,572.1 L247.6,574.4 L248.3,576.8 L247.6,579.1 L249.1,581.4" stroke="#a4884a" stroke-width="1.2" fill="none" opacity="0.55"/><path d="M255.7,549.0 L255.9,551.8 L256.4,554.6 L256.0,557.5 L256.1,560.3 L256.8,563.1 L256.5,566.0 L256.6,568.8 L257.0,571.6 L257.4,574.4 L257.6,577.2 L257.8,580.1 L257.8,582.9 L258.1,585.7 L258.3,588.6 L258.3,591.4 L258.2,594.2 L259.0,594.2 L259.3,591.4 L259.8,588.6 L260.0,585.7 L260.3,582.9 L260.7,580.1 L261.0,577.2 L261.4,574.4 L261.4,571.6 L261.6,568.8 L262.0,566.0 L262.8,563.1 L262.7,560.3 L263.0,557.5 L264.0,554.6 L264.0,551.8 L264.4,549.0 Z" fill="#84692e"/><path d="M260.6,549.0 L260.3,551.8 L260.7,554.6 L259.8,557.5 L259.2,560.3 L259.3,563.1 L258.7,566.0 L259.3,568.8 L259.6,571.6 L259.2,574.4 L259.8,577.2 L259.5,580.1 L258.9,582.9 L259.2,585.7 L259.0,588.6" stroke="#a4884a" stroke-width="1.3" fill="none" opacity="0.55"/><path d="M294.6,551.0 L295.0,553.4 L294.8,555.8 L295.5,558.2 L295.5,560.6 L295.7,563.1 L295.8,565.5 L296.2,567.9 L296.8,570.3 L296.8,572.7 L297.5,575.1 L297.5,577.5 L297.3,580.0 L298.0,582.4 L298.2,584.8 L298.4,587.2 L298.4,589.6 L299.2,589.6 L299.5,587.2 L299.6,584.8 L299.8,582.4 L299.6,580.0 L300.3,577.5 L300.8,575.1 L300.5,572.7 L301.0,570.3 L300.9,567.9 L301.0,565.5 L301.4,563.1 L301.7,560.6 L302.2,558.2 L302.0,555.8 L302.7,553.4 L302.9,551.0 Z" fill="#84692e"/><path d="M299.3,551.0 L298.7,553.4 L297.8,555.8 L298.7,558.2 L298.7,560.6 L298.1,563.1 L298.1,565.5 L298.1,567.9 L298.8,570.3 L298.8,572.7 L299.2,575.1 L298.8,577.5 L299.0,580.0 L299.1,582.4 L299.0,584.8" stroke="#a4884a" stroke-width="1.2" fill="none" opacity="0.55"/><path d="M310.1,551.0 L310.1,553.1 L310.1,555.2 L310.8,557.4 L310.9,559.5 L311.1,561.6 L311.1,563.8 L311.3,565.9 L311.1,568.0 L311.6,570.1 L312.1,572.2 L311.6,574.4 L311.9,576.5 L311.9,578.6 L312.2,580.8 L312.3,582.9 L312.4,585.0 L313.2,585.0 L313.3,582.9 L313.7,580.8 L313.8,578.6 L314.2,576.5 L314.4,574.4 L315.3,572.2 L315.3,570.1 L315.3,568.0 L315.9,565.9 L316.3,563.8 L316.7,561.6 L317.1,559.5 L317.4,557.4 L317.3,555.2 L317.8,553.1 L318.4,551.0 Z" fill="#84692e"/><path d="M313.8,551.0 L313.8,553.1 L314.1,555.2 L313.9,557.4 L313.5,559.5 L313.6,561.6 L313.8,563.8 L314.1,565.9 L312.8,568.0 L313.6,570.1 L313.3,572.2 L313.2,574.4 L312.6,576.5 L312.7,578.6 L313.5,580.8" stroke="#a4884a" stroke-width="1.2" fill="none" opacity="0.55"/>
<path d="M239.0,536 L252.0,536 L253.0,476.0 L227.0,476.0 Z" fill="#5a4a30" opacity="0.45"/><path d="M245.4,536.0 Q245.0,508.8 244.0,481.5" stroke="#7a6036" stroke-width="0.90" fill="none"/><path d="M244.1,536.0 Q238.3,507.1 234.8,478.3" stroke="#5e4a2c" stroke-width="0.57" fill="none"/><path d="M244.0,536.0 Q242.1,502.7 243.9,469.3" stroke="#6e5630" stroke-width="1.17" fill="none"/><path d="M243.9,469.3 q2.0,-5 6.8,6.6" stroke="#7a6238" stroke-width="0.8" fill="none"/><path d="M241.9,536.0 Q235.2,503.1 229.6,470.2" stroke="#5e4a2c" stroke-width="1.26" fill="none"/><path d="M229.6,470.2 q2.4,-5 8.1,6.4" stroke="#7a6238" stroke-width="0.8" fill="none"/><path d="M246.7,536.0 Q240.1,506.6 229.7,477.1" stroke="#5e4a2c" stroke-width="0.79" fill="none"/><path d="M229.7,477.1 q2.7,-5 8.9,4.9" stroke="#7a6238" stroke-width="0.8" fill="none"/><path d="M248.9,536.0 Q238.8,501.0 228.5,466.0" stroke="#6e5630" stroke-width="1.10" fill="none"/><path d="M228.5,466.0 q-1.3,-5 -4.5,8.3" stroke="#7a6238" stroke-width="0.8" fill="none"/><path d="M249.5,536.0 Q250.1,506.1 251.5,476.2" stroke="#5e4a2c" stroke-width="0.73" fill="none"/><path d="M251.5,476.2 q-1.7,-5 -5.8,5.0" stroke="#7a6238" stroke-width="0.8" fill="none"/><path d="M242.3,536.0 Q236.2,500.6 227.8,465.3" stroke="#7a6036" stroke-width="1.01" fill="none"/><path d="M227.8,465.3 q1.0,-5 3.3,8.6" stroke="#7a6238" stroke-width="0.8" fill="none"/><path d="M246.2,536.0 Q249.1,506.0 251.1,476.1" stroke="#6e5630" stroke-width="1.05" fill="none"/><path d="M251.1,476.1 q-2.6,-5 -8.8,7.3" stroke="#7a6238" stroke-width="0.8" fill="none"/><path d="M243.4,536.0 Q241.6,509.0 243.3,482.1" stroke="#54422a" stroke-width="1.13" fill="none"/><path d="M243.3,482.1 q-1.7,-5 -5.6,7.0" stroke="#7a6238" stroke-width="0.8" fill="none"/><path d="M244.7,536.0 Q238.3,502.5 230.1,469.0" stroke="#8c7044" stroke-width="1.17" fill="none"/><path d="M243.6,536.0 Q244.6,506.8 248.6,477.7" stroke="#8c7044" stroke-width="0.75" fill="none"/><path d="M246.3,536.0 Q247.9,501.3 251.0,466.6" stroke="#84683a" stroke-width="0.61" fill="none"/><path d="M241.0,536.0 Q239.3,503.5 234.1,471.0" stroke="#84683a" stroke-width="0.66" fill="none"/><path d="M245.4,536.0 Q243.0,507.8 238.4,479.6" stroke="#705a34" stroke-width="0.58" fill="none"/><path d="M241.2,536.0 Q243.0,501.2 242.2,466.4" stroke="#5e4a2c" stroke-width="1.02" fill="none"/><path d="M242.2,466.4 q1.9,-5 6.2,8.3" stroke="#7a6238" stroke-width="0.8" fill="none"/><path d="M245.0,536.0 Q247.9,500.6 247.0,465.3" stroke="#8c7044" stroke-width="0.76" fill="none"/><path d="M247.0,465.3 q-2.2,-5 -7.4,6.2" stroke="#7a6238" stroke-width="0.8" fill="none"/><path d="M244.3,536.0 Q237.6,509.1 228.2,482.3" stroke="#54422a" stroke-width="0.80" fill="none"/><path d="M244.6,536.0 Q245.5,505.2 243.1,474.3" stroke="#84683a" stroke-width="0.86" fill="none"/><path d="M243.1,474.3 q-1.3,-5 -4.3,8.6" stroke="#7a6238" stroke-width="0.8" fill="none"/><path d="M247.8,536.0 Q243.3,500.7 240.0,465.3" stroke="#8c7044" stroke-width="0.63" fill="none"/><path d="M240.0,465.3 q1.2,-5 4.1,11.6" stroke="#7a6238" stroke-width="0.8" fill="none"/><path d="M248.9,536.0 Q247.1,500.1 247.9,464.1" stroke="#54422a" stroke-width="1.29" fill="none"/><path d="M248.6,536.0 Q242.6,500.8 235.9,465.6" stroke="#7a6036" stroke-width="1.22" fill="none"/><path d="M253.0,536 L265.0,536 L276.0,480.0 L252.0,480.0 Z" fill="#5a4a30" opacity="0.45"/><path d="M261.3,536.0 Q262.2,511.5 260.7,486.9" stroke="#8c7044" stroke-width="0.99" fill="none"/><path d="M264.8,536.0 Q259.9,504.9 254.7,473.9" stroke="#7a6036" stroke-width="0.70" fill="none"/><path d="M254.7,473.9 q2.1,-5 6.9,5.4" stroke="#7a6238" stroke-width="0.8" fill="none"/><path d="M253.9,536.0 Q251.9,509.7 252.7,483.5" stroke="#705a34" stroke-width="0.81" fill="none"/><path d="M259.5,536.0 Q258.3,502.0 255.1,468.0" stroke="#54422a" stroke-width="0.93" fill="none"/><path d="M255.1,468.0 q1.5,-5 5.1,6.8" stroke="#7a6238" stroke-width="0.8" fill="none"/><path d="M262.4,536.0 Q264.8,507.0 267.6,477.9" stroke="#84683a" stroke-width="0.80" fill="none"/><path d="M264.3,536.0 Q265.8,507.2 264.1,478.5" stroke="#5e4a2c" stroke-width="0.56" fill="none"/><path d="M264.1,478.5 q-1.5,-5 -5.1,3.0" stroke="#7a6238" stroke-width="0.8" fill="none"/><path d="M264.2,536.0 Q268.9,503.1 275.1,470.3" stroke="#5e4a2c" stroke-width="1.20" fill="none"/><path d="M275.1,470.3 q-1.2,-5 -4.0,6.7" stroke="#7a6238" stroke-width="0.8" fill="none"/><path d="M254.7,536.0 Q265.9,511.7 273.6,487.4" stroke="#54422a" stroke-width="0.93" fill="none"/><path d="M273.6,487.4 q-1.1,-5 -3.6,9.3" stroke="#7a6238" stroke-width="0.8" fill="none"/><path d="M260.4,536.0 Q266.9,510.7 274.2,485.4" stroke="#6e5630" stroke-width="0.89" fill="none"/><path d="M274.2,485.4 q1.0,-5 3.2,11.5" stroke="#7a6238" stroke-width="0.8" fill="none"/><path d="M263.8,536.0 Q258.3,510.9 254.1,485.8" stroke="#5e4a2c" stroke-width="1.06" fill="none"/><path d="M264.7,536.0 Q269.5,511.2 274.8,486.4" stroke="#54422a" stroke-width="1.14" fill="none"/><path d="M274.8,486.4 q2.9,-5 9.5,3.8" stroke="#7a6238" stroke-width="0.8" fill="none"/><path d="M259.2,536.0 Q266.3,501.4 275.0,466.7" stroke="#6e5630" stroke-width="0.74" fill="none"/><path d="M258.0,536.0 Q256.9,503.1 255.6,470.1" stroke="#705a34" stroke-width="0.96" fill="none"/><path d="M262.7,536.0 Q256.2,501.7 252.0,467.5" stroke="#54422a" stroke-width="0.82" fill="none"/><path d="M252.0,467.5 q1.6,-5 5.3,6.1" stroke="#7a6238" stroke-width="0.8" fill="none"/><path d="M253.2,536.0 Q261.3,503.9 270.5,471.8" stroke="#705a34" stroke-width="1.08" fill="none"/><path d="M270.5,471.8 q1.9,-5 6.2,5.1" stroke="#7a6238" stroke-width="0.8" fill="none"/><path d="M263.6,536.0 Q259.7,502.6 256.2,469.3" stroke="#5e4a2c" stroke-width="0.68" fill="none"/><path d="M255.2,536.0 Q261.8,507.7 268.3,479.4" stroke="#705a34" stroke-width="0.70" fill="none"/><path d="M255.2,536.0 Q257.4,504.3 257.6,472.6" stroke="#5e4a2c" stroke-width="0.66" fill="none"/><path d="M257.6,472.6 q-2.0,-5 -6.8,3.7" stroke="#7a6238" stroke-width="0.8" fill="none"/><path d="M262.2,536.0 Q260.2,503.4 257.9,470.8" stroke="#84683a" stroke-width="0.61" fill="none"/><path d="M257.9,470.8 q-2.8,-5 -9.4,11.9" stroke="#7a6238" stroke-width="0.8" fill="none"/><path d="M257.6,536.0 Q255.4,509.7 255.3,483.4" stroke="#54422a" stroke-width="1.29" fill="none"/><path d="M255.3,483.4 q2.1,-5 6.9,11.5" stroke="#7a6238" stroke-width="0.8" fill="none"/><path d="M293.5,537 L306.5,537 L309.0,480.0 L285.0,480.0 Z" fill="#5a4a30" opacity="0.45"/><path d="M294.4,537.0 Q301.4,511.5 308.4,486.1" stroke="#6e5630" stroke-width="0.80" fill="none"/><path d="M308.4,486.1 q-1.2,-5 -4.0,4.9" stroke="#7a6238" stroke-width="0.8" fill="none"/><path d="M304.9,537.0 Q305.0,511.7 308.1,486.5" stroke="#5e4a2c" stroke-width="0.61" fill="none"/><path d="M297.7,537.0 Q292.6,504.1 286.0,471.2" stroke="#8c7044" stroke-width="1.21" fill="none"/><path d="M305.8,537.0 Q302.6,505.6 295.9,474.2" stroke="#6e5630" stroke-width="0.62" fill="none"/><path d="M306.3,537.0 Q303.6,508.9 302.4,480.9" stroke="#6e5630" stroke-width="0.65" fill="none"/><path d="M302.4,480.9 q2.5,-5 8.3,7.7" stroke="#7a6238" stroke-width="0.8" fill="none"/><path d="M305.8,537.0 Q298.1,504.0 287.0,470.9" stroke="#6e5630" stroke-width="1.28" fill="none"/><path d="M302.3,537.0 Q296.2,512.1 289.5,487.2" stroke="#8c7044" stroke-width="0.74" fill="none"/><path d="M306.1,537.0 Q301.0,508.1 296.0,479.3" stroke="#54422a" stroke-width="0.53" fill="none"/><path d="M296.0,479.3 q3.0,-5 9.8,3.2" stroke="#7a6238" stroke-width="0.8" fill="none"/><path d="M303.4,537.0 Q297.2,502.1 294.6,467.1" stroke="#7a6036" stroke-width="0.82" fill="none"/><path d="M306.0,537.0 Q296.2,506.2 285.6,475.3" stroke="#84683a" stroke-width="0.55" fill="none"/><path d="M285.6,475.3 q0.9,-5 3.1,5.7" stroke="#7a6238" stroke-width="0.8" fill="none"/><path d="M294.0,537.0 Q293.4,508.3 291.3,479.6" stroke="#5e4a2c" stroke-width="0.70" fill="none"/><path d="M295.7,537.0 Q291.7,507.9 288.4,478.7" stroke="#705a34" stroke-width="0.93" fill="none"/><path d="M288.4,478.7 q2.9,-5 9.6,7.4" stroke="#7a6238" stroke-width="0.8" fill="none"/><path d="M302.3,537.0 Q299.8,511.3 299.9,485.6" stroke="#8c7044" stroke-width="0.91" fill="none"/><path d="M297.3,537.0 Q293.4,509.5 289.1,481.9" stroke="#7a6036" stroke-width="0.82" fill="none"/><path d="M297.9,537.0 Q298.5,508.5 300.3,479.9" stroke="#6e5630" stroke-width="0.95" fill="none"/><path d="M300.3,479.9 q2.3,-5 7.8,9.0" stroke="#7a6238" stroke-width="0.8" fill="none"/><path d="M298.7,537.0 Q297.7,510.8 296.9,484.6" stroke="#705a34" stroke-width="0.57" fill="none"/><path d="M296.9,484.6 q1.0,-5 3.4,4.3" stroke="#7a6238" stroke-width="0.8" fill="none"/><path d="M293.9,537.0 Q297.1,502.1 297.9,467.1" stroke="#5e4a2c" stroke-width="0.69" fill="none"/><path d="M303.9,537.0 Q295.9,511.4 291.1,485.9" stroke="#705a34" stroke-width="0.78" fill="none"/><path d="M291.1,485.9 q-1.9,-5 -6.4,7.3" stroke="#7a6238" stroke-width="0.8" fill="none"/><path d="M297.3,537.0 Q302.9,507.0 305.2,477.1" stroke="#5e4a2c" stroke-width="1.02" fill="none"/><path d="M305.2,477.1 q2.6,-5 8.6,11.8" stroke="#7a6238" stroke-width="0.8" fill="none"/><path d="M305.4,537.0 Q302.5,510.3 301.4,483.5" stroke="#8c7044" stroke-width="0.74" fill="none"/><path d="M309.5,537 L321.5,537 L330.0,484.0 L306.0,484.0 Z" fill="#5a4a30" opacity="0.45"/><path d="M310.9,537.0 Q315.8,511.4 317.4,485.7" stroke="#6e5630" stroke-width="0.52" fill="none"/><path d="M317.4,485.7 q1.9,-5 6.3,8.8" stroke="#7a6238" stroke-width="0.8" fill="none"/><path d="M317.6,537.0 Q314.9,513.8 315.6,490.7" stroke="#54422a" stroke-width="1.03" fill="none"/><path d="M315.6,490.7 q2.7,-5 9.1,5.8" stroke="#7a6238" stroke-width="0.8" fill="none"/><path d="M311.7,537.0 Q317.7,511.8 322.7,486.7" stroke="#8c7044" stroke-width="0.60" fill="none"/><path d="M310.2,537.0 Q319.5,512.0 326.8,486.9" stroke="#54422a" stroke-width="0.50" fill="none"/><path d="M326.8,486.9 q2.2,-5 7.5,7.4" stroke="#7a6238" stroke-width="0.8" fill="none"/><path d="M314.1,537.0 Q314.3,503.8 314.5,470.5" stroke="#7a6036" stroke-width="1.28" fill="none"/><path d="M314.5,470.5 q-2.4,-5 -7.9,7.6" stroke="#7a6238" stroke-width="0.8" fill="none"/><path d="M313.3,537.0 Q312.0,505.6 312.5,474.1" stroke="#8c7044" stroke-width="1.12" fill="none"/><path d="M312.5,474.1 q2.8,-5 9.5,11.2" stroke="#7a6238" stroke-width="0.8" fill="none"/><path d="M313.0,537.0 Q322.0,510.3 328.8,483.6" stroke="#84683a" stroke-width="0.77" fill="none"/><path d="M328.8,483.6 q1.0,-5 3.5,3.9" stroke="#7a6238" stroke-width="0.8" fill="none"/><path d="M318.0,537.0 Q311.6,511.8 307.2,486.6" stroke="#705a34" stroke-width="0.66" fill="none"/><path d="M307.2,486.6 q-1.8,-5 -6.0,6.6" stroke="#7a6238" stroke-width="0.8" fill="none"/><path d="M313.6,537.0 Q323.1,506.8 329.0,476.5" stroke="#54422a" stroke-width="1.01" fill="none"/><path d="M329.0,476.5 q2.8,-5 9.4,10.1" stroke="#7a6238" stroke-width="0.8" fill="none"/><path d="M320.5,537.0 Q314.9,508.2 307.9,479.4" stroke="#84683a" stroke-width="1.11" fill="none"/><path d="M307.9,479.4 q2.1,-5 7.1,6.8" stroke="#7a6238" stroke-width="0.8" fill="none"/><path d="M309.6,537.0 Q309.3,505.5 308.1,474.0" stroke="#6e5630" stroke-width="0.65" fill="none"/><path d="M318.9,537.0 Q320.6,513.8 320.0,490.6" stroke="#5e4a2c" stroke-width="1.02" fill="none"/><path d="M315.0,537.0 Q314.5,504.7 316.4,472.3" stroke="#84683a" stroke-width="0.70" fill="none"/><path d="M316.1,537.0 Q310.8,508.6 306.1,480.2" stroke="#705a34" stroke-width="0.60" fill="none"/><path d="M306.1,480.2 q-1.7,-5 -5.8,8.8" stroke="#7a6238" stroke-width="0.8" fill="none"/><path d="M317.7,537.0 Q319.5,504.0 320.8,471.0" stroke="#8c7044" stroke-width="0.70" fill="none"/><path d="M320.8,471.0 q0.9,-5 3.1,3.7" stroke="#7a6238" stroke-width="0.8" fill="none"/><path d="M314.2,537.0 Q317.1,504.7 317.2,472.3" stroke="#7a6036" stroke-width="0.89" fill="none"/><path d="M317.2,472.3 q2.8,-5 9.5,8.7" stroke="#7a6238" stroke-width="0.8" fill="none"/><path d="M313.5,537.0 Q310.1,512.7 306.5,488.4" stroke="#8c7044" stroke-width="0.83" fill="none"/><path d="M306.5,488.4 q-1.4,-5 -4.8,10.1" stroke="#7a6238" stroke-width="0.8" fill="none"/><path d="M318.0,537.0 Q316.2,507.5 316.8,478.0" stroke="#84683a" stroke-width="0.85" fill="none"/><path d="M316.8,478.0 q-1.8,-5 -5.9,5.7" stroke="#7a6238" stroke-width="0.8" fill="none"/><path d="M251.6,494.2 Q240.7,487.2 229.5,512.1" stroke="#6e5834" stroke-width="0.7" fill="none" opacity="0.9"/><path d="M249.8,520.9 Q259.7,507.8 267.3,516.6" stroke="#6e5834" stroke-width="0.7" fill="none" opacity="0.9"/><path d="M254.2,493.0 Q264.9,480.3 277.8,488.7" stroke="#6e5834" stroke-width="0.7" fill="none" opacity="0.9"/><path d="M250.8,500.9 Q262.5,493.5 273.0,517.5" stroke="#6e5834" stroke-width="0.7" fill="none" opacity="0.9"/><path d="M255.9,504.0 Q243.0,498.5 234.0,505.6" stroke="#6e5834" stroke-width="0.7" fill="none" opacity="0.9"/><path d="M254.7,469.7 Q264.2,462.6 276.5,485.6" stroke="#6e5834" stroke-width="0.7" fill="none" opacity="0.9"/><path d="M253.6,512.3 Q264.2,500.4 276.4,508.8" stroke="#6e5834" stroke-width="0.7" fill="none" opacity="0.9"/><path d="M250.6,527.2 Q243.8,517.4 235.5,541.7" stroke="#6e5834" stroke-width="0.7" fill="none" opacity="0.9"/><path d="M252.0,483.0 Q239.9,477.7 227.8,489.0" stroke="#6e5834" stroke-width="0.7" fill="none" opacity="0.9"/><path d="M251.4,507.1 Q261.6,502.0 271.2,522.5" stroke="#6e5834" stroke-width="0.7" fill="none" opacity="0.9"/><path d="M252.6,494.5 Q240.2,482.9 228.5,516.2" stroke="#6e5834" stroke-width="0.7" fill="none" opacity="0.9"/><path d="M252.4,492.8 Q259.5,475.8 266.9,481.1" stroke="#6e5834" stroke-width="0.7" fill="none" opacity="0.9"/><path d="M250.9,517.4 Q262.4,506.4 272.8,514.7" stroke="#6e5834" stroke-width="0.7" fill="none" opacity="0.9"/><path d="M254.3,499.4 Q241.4,490.4 230.8,501.2" stroke="#6e5834" stroke-width="0.7" fill="none" opacity="0.9"/><path d="M253.1,478.8 Q244.8,474.6 237.5,497.8" stroke="#6e5834" stroke-width="0.7" fill="none" opacity="0.9"/><path d="M248.2,482.4 Q240.6,471.8 229.2,494.0" stroke="#6e5834" stroke-width="0.7" fill="none" opacity="0.9"/><path d="M250.7,479.1 Q265.3,468.1 278.7,490.9" stroke="#6e5834" stroke-width="0.7" fill="none" opacity="0.9"/><path d="M255.3,518.4 Q238.7,497.1 225.4,507.4" stroke="#6e5834" stroke-width="0.7" fill="none" opacity="0.9"/><path d="M304.8,503.8 Q321.9,490.4 336.8,499.4" stroke="#6e5834" stroke-width="0.7" fill="none" opacity="0.9"/><path d="M310.1,506.1 Q292.6,500.7 278.3,520.9" stroke="#6e5834" stroke-width="0.7" fill="none" opacity="0.9"/><path d="M305.8,522.8 Q294.6,506.9 282.2,516.6" stroke="#6e5834" stroke-width="0.7" fill="none" opacity="0.9"/><path d="M306.8,513.7 Q297.5,509.3 287.9,530.8" stroke="#6e5834" stroke-width="0.7" fill="none" opacity="0.9"/><path d="M303.5,510.6 Q314.4,499.8 321.8,522.2" stroke="#6e5834" stroke-width="0.7" fill="none" opacity="0.9"/><path d="M310.9,471.9 Q299.6,463.1 292.3,471.9" stroke="#6e5834" stroke-width="0.7" fill="none" opacity="0.9"/><path d="M308.6,469.9 Q314.8,453.2 322.6,458.6" stroke="#6e5834" stroke-width="0.7" fill="none" opacity="0.9"/><path d="M303.4,468.7 Q315.2,458.5 323.4,479.8" stroke="#6e5834" stroke-width="0.7" fill="none" opacity="0.9"/><path d="M305.0,500.8 Q297.2,494.5 287.3,501.0" stroke="#6e5834" stroke-width="0.7" fill="none" opacity="0.9"/><path d="M304.4,466.9 Q316.9,461.5 326.8,469.1" stroke="#6e5834" stroke-width="0.7" fill="none" opacity="0.9"/><path d="M305.5,518.5 Q296.2,507.4 285.5,523.9" stroke="#6e5834" stroke-width="0.7" fill="none" opacity="0.9"/><path d="M306.1,508.9 Q318.0,500.9 329.0,511.0" stroke="#6e5834" stroke-width="0.7" fill="none" opacity="0.9"/><path d="M309.4,493.5 Q318.6,482.8 330.2,515.4" stroke="#6e5834" stroke-width="0.7" fill="none" opacity="0.9"/><path d="M309.4,467.4 Q316.4,447.5 325.8,456.5" stroke="#6e5834" stroke-width="0.7" fill="none" opacity="0.9"/><path d="M307.5,498.4 Q316.9,490.7 326.9,517.7" stroke="#6e5834" stroke-width="0.7" fill="none" opacity="0.9"/><path d="M307.4,512.2 Q317.6,501.1 328.3,513.7" stroke="#6e5834" stroke-width="0.7" fill="none" opacity="0.9"/><path d="M307.3,470.6 Q298.0,462.5 289.0,491.6" stroke="#6e5834" stroke-width="0.7" fill="none" opacity="0.9"/><path d="M310.6,468.4 Q316.3,460.2 325.6,468.5" stroke="#6e5834" stroke-width="0.7" fill="none" opacity="0.9"/>
<path d="M216,533.60 L364.8,537.80 L364.8,541.10 L216,536.90 Z" fill="#4a4a50"/>
<line x1="216" y1="533.60" x2="364.8" y2="537.80" stroke="#aeaeb0" stroke-width="1.4"/>
<path d="M229.5,534.6 L279.0,534.6 C277.5,542.2 274.0,548.5 264.0,548.5 L244.5,548.5 C234.5,548.5 231.0,542.2 229.5,534.6 Z" fill="#56a4c6"/><path d="M232.5,540.6 L276.0,540.6 M234.5,543.1 L274.0,543.1 M237.5,545.6 L271.0,545.6" stroke="#80bcd8" stroke-width="0.7" opacity="0.35"/><rect x="229.5" y="534.6" width="49.5" height="3.3" fill="#7cc4e4"/><path d="M284.7,535.9 L334.0,535.9 C332.5,544.1 329.0,550.8 319.0,550.8 L299.7,550.8 C289.7,550.8 286.2,544.1 284.7,535.9 Z" fill="#54cc4a"/><path d="M287.7,541.9 L331.0,541.9 M289.7,544.4 L329.0,544.4 M292.7,546.9 L326.0,546.9" stroke="#78d878" stroke-width="0.7" opacity="0.35"/><rect x="284.7" y="535.9" width="49.3" height="3.3" fill="#70dca0"/>
<line x1="216" y1="536.90" x2="364.8" y2="541.10" stroke="#bcbcb8" stroke-width="1.7"/>
</g>
<clipPath id="cpi"><rect x="371" y="424.2" width="148.90" height="233.30"/></clipPath>
<linearGradient id="bgi" x1="0" y1="0" x2="1" y2="0"><stop offset="0" stop-color="#636269"/><stop offset="0.35" stop-color="#636269"/><stop offset="1.0" stop-color="#514f57"/><stop offset="1" stop-color="#514f57"/></linearGradient>
<linearGradient id="bvi" x1="0" y1="0" x2="0" y2="1"><stop offset="0" stop-color="#3a3940" stop-opacity="0"/><stop offset="1" stop-color="#3a3940" stop-opacity="0.72"/></linearGradient>
<radialGradient id="rbi" cx="0.7" cy="0.2" r="0.9"><stop offset="0" stop-color="#262b38"/><stop offset="1" stop-color="#1d212b"/></radialGradient>
<linearGradient id="loi" x1="0" y1="0" x2="0" y2="1"><stop offset="0" stop-color="#1f1f26"/><stop offset="0.2" stop-color="#1c1c21"/><stop offset="0.5" stop-color="#1a1a1d"/><stop offset="1" stop-color="#161618"/></linearGradient>
<g clip-path="url(#cpi)">
<rect x="371" y="424.2" width="148.90" height="114.95" fill="url(#bgi)"/>
<rect x="371" y="424.2" width="148.90" height="114.95" fill="url(#bvi)"/>
<path d="M371,535.90 L519.9,538.40 L519.9,657.5 L371,657.5 Z" fill="url(#loi)"/>
<path d="M371,539.4499999999999 L380.8,540.4499999999999 Q388.5,567.4499999999999 382.2,587.4499999999999 Q376.6,595.4499999999999 371,595.4499999999999 Z" fill="#1c2030"/>
<path d="M473.9,539.4499999999999 Q469.9,564.4499999999999 475.9,584.4499999999999 L497.9,584.4499999999999 L497.9,539.4499999999999 Z" fill="#1c1f2c"/>
<path d="M501.9,539.4499999999999 Q494.0,545.4499999999999 495.9,569.4499999999999 Q496.4,589.4499999999999 500.7,595.4499999999999 L519.9,603.4499999999999 L519.9,539.4499999999999 Z" fill="url(#rbi)"/>
<path d="M517.9,544.4499999999999 Q512.7,550.4499999999999 509.1,562.4499999999999" stroke="#56607a" stroke-width="0.7" fill="none"/>
<rect x="494.80" y="588.50" width="25.10" height="69.00" fill="#201b15"/>
<rect x="494.80" y="588.50" width="3.5" height="69.00" fill="#342a1e"/>
<rect x="505.36" y="598.50" width="4" height="59.00" fill="#0e0d0c"/>
<path d="M495.30,589.00 L509.36,599.00 L509.36,604.00 L495.30,595.00 Z" fill="#7e6244"/>
<path d="M496.80,590.50 L509.36,600.50" stroke="#a88660" stroke-width="1.2" opacity="0.8"/>
<path d="M495.30,614.50 L509.36,624.50 L509.36,629.50 L495.30,620.50 Z" fill="#7e6244"/>
<path d="M496.80,616.00 L509.36,626.00" stroke="#a88660" stroke-width="1.2" opacity="0.8"/>
<path d="M495.30,638.50 L509.36,648.50 L509.36,653.50 L495.30,644.50 Z" fill="#7e6244"/>
<path d="M496.80,640.00 L509.36,650.00" stroke="#a88660" stroke-width="1.2" opacity="0.8"/>
<rect x="495.80" y="648.50" width="14.56" height="9" fill="#5e4830"/>
<rect x="509.36" y="600.50" width="10.54" height="57.00" fill="#b0642e"/>
<rect x="511.99" y="600.50" width="3.16" height="57.00" fill="#c47a40" opacity="0.7"/>
<path d="M507.36,596.50 L519.9,605.50 L519.9,582.50 L507.36,582.50 Z" fill="#1d212b"/>
<path d="M398.1,550.0 L398.5,554.0 L398.4,558.0 L398.2,562.0 L398.3,566.0 L398.9,570.1 L399.2,574.1 L399.2,578.1 L399.4,582.1 L399.5,586.1 L399.2,590.1 L399.4,594.1 L399.3,598.1 L399.7,602.1 L400.0,606.2 L399.8,610.2 L399.6,614.2 L400.0,618.2 L399.8,622.2 L400.4,626.2 L400.4,630.2 L400.2,634.2 L400.5,638.3 L400.6,642.3 L400.5,646.3 L400.7,650.3 L400.8,654.3 L401.5,654.3 L401.5,650.3 L401.5,646.3 L401.7,642.3 L401.8,638.3 L401.7,634.2 L402.1,630.2 L402.4,626.2 L402.0,622.2 L402.4,618.2 L402.2,614.2 L402.7,610.2 L403.0,606.2 L403.0,602.1 L402.9,598.1 L403.2,594.1 L403.2,590.1 L403.8,586.1 L404.0,582.1 L404.0,578.1 L404.3,574.1 L404.3,570.1 L403.9,566.0 L404.1,562.0 L404.5,558.0 L404.9,554.0 L404.9,550.0 Z" fill="#6a5224"/><path d="M401.4,550.0 L401.4,554.0 L401.0,558.0 L401.3,562.0 L401.4,566.0 L401.8,570.1 L401.3,574.1 L401.4,578.1 L401.9,582.1 L401.2,586.1 L401.4,590.1 L401.3,594.1 L400.7,598.1 L401.5,602.1 L401.3,606.2 L401.0,610.2 L400.6,614.2 L400.9,618.2 L400.4,622.2 L401.4,626.2 L400.7,630.2 L400.5,634.2 L400.9,638.3 L400.7,642.3 L401.0,646.3" stroke="#8c6e32" stroke-width="1.0" fill="none" opacity="0.55"/><path d="M410.1,551.0 L410.6,555.0 L410.7,558.9 L410.7,562.9 L411.0,566.8 L410.9,570.8 L411.2,574.8 L411.2,578.7 L411.1,582.7 L411.5,586.7 L411.5,590.6 L411.7,594.6 L411.9,598.5 L411.8,602.5 L411.3,606.5 L411.4,610.4 L411.5,614.4 L411.9,618.3 L412.0,622.3 L412.0,626.3 L411.6,630.2 L411.8,634.2 L411.9,638.2 L412.0,642.1 L411.9,646.1 L412.2,650.0 L411.8,654.0 L412.6,654.0 L413.0,650.0 L412.8,646.1 L413.1,642.1 L413.3,638.2 L413.5,634.2 L413.5,630.2 L414.2,626.3 L414.5,622.3 L414.7,618.3 L414.7,614.4 L415.0,610.4 L415.3,606.5 L416.1,602.5 L416.6,598.5 L416.8,594.6 L417.0,590.6 L417.4,586.7 L417.5,582.7 L418.1,578.7 L418.4,574.8 L418.6,570.8 L419.2,566.8 L419.4,562.9 L419.9,558.9 L420.3,555.0 L420.4,551.0 Z" fill="#6a5224"/><path d="M414.9,551.0 L415.2,555.0 L415.4,558.9 L415.3,562.9 L415.4,566.8 L414.4,570.8 L414.6,574.8 L414.8,578.7 L414.2,582.7 L413.9,586.7 L413.7,590.6 L414.2,594.6 L414.3,598.5 L414.1,602.5 L413.4,606.5 L413.2,610.4 L413.1,614.4 L413.9,618.3 L412.9,622.3 L413.3,626.3 L412.7,630.2 L412.6,634.2 L412.8,638.2 L412.5,642.1 L412.6,646.1" stroke="#8c6e32" stroke-width="1.6" fill="none" opacity="0.55"/><path d="M448.5,551.0 L448.8,554.9 L448.5,558.8 L448.5,562.7 L448.5,566.6 L448.2,570.5 L448.2,574.4 L448.6,578.4 L447.9,582.3 L447.7,586.2 L448.4,590.1 L448.4,594.0 L447.7,597.9 L447.7,601.8 L448.1,605.7 L447.8,609.6 L447.6,613.5 L448.0,617.4 L447.2,621.3 L447.7,625.2 L447.7,629.2 L447.4,633.1 L447.6,637.0 L447.5,640.9 L447.5,644.8 L447.1,648.7 L446.8,652.6 L447.6,652.6 L448.0,648.7 L448.5,644.8 L448.7,640.9 L449.1,637.0 L449.0,633.1 L449.5,629.2 L449.8,625.2 L449.6,621.3 L450.6,617.4 L450.5,613.5 L450.9,609.6 L451.5,605.7 L451.4,601.8 L451.6,597.9 L452.6,594.0 L452.9,590.1 L452.5,586.2 L452.9,582.3 L453.9,578.4 L453.9,574.4 L454.2,570.5 L454.8,566.6 L455.1,562.7 L455.3,558.8 L456.0,554.9 L456.0,551.0 Z" fill="#6a5224"/><path d="M451.9,551.0 L452.4,554.9 L452.0,558.8 L452.3,562.7 L451.7,566.6 L451.7,570.5 L451.3,574.4 L450.9,578.4 L450.2,582.3 L449.6,586.2 L450.3,590.1 L450.0,594.0 L450.0,597.9 L449.0,601.8 L450.1,605.7 L449.5,609.6 L448.8,613.5 L449.0,617.4 L448.2,621.3 L448.7,625.2 L448.9,629.2 L447.8,633.1 L448.7,637.0 L448.6,640.9 L447.6,644.8" stroke="#8c6e32" stroke-width="1.1" fill="none" opacity="0.55"/><path d="M464.1,551.0 L464.1,554.8 L464.1,558.7 L463.8,562.5 L464.4,566.4 L463.8,570.2 L464.1,574.1 L463.8,577.9 L463.8,581.7 L464.5,585.6 L464.4,589.4 L463.7,593.3 L463.9,597.1 L463.9,601.0 L464.0,604.8 L463.6,608.6 L464.2,612.5 L463.7,616.3 L464.1,620.2 L463.5,624.0 L463.6,627.8 L463.9,631.7 L463.2,635.5 L463.5,639.4 L463.2,643.2 L462.9,647.1 L463.0,650.9 L463.8,650.9 L463.7,647.1 L464.2,643.2 L464.7,639.4 L464.7,635.5 L465.7,631.7 L465.7,627.8 L465.9,624.0 L466.8,620.2 L466.7,616.3 L467.5,612.5 L467.3,608.6 L468.0,604.8 L468.3,601.0 L468.6,597.1 L468.8,593.3 L469.9,589.4 L470.4,585.6 L470.1,581.7 L470.5,577.9 L471.2,574.1 L471.3,570.2 L472.4,566.4 L472.2,562.5 L473.0,558.7 L473.3,554.8 L473.9,551.0 Z" fill="#6a5224"/><path d="M468.9,551.0 L469.1,554.8 L468.0,558.7 L467.8,562.5 L468.9,566.4 L467.9,570.2 L467.6,574.1 L466.7,577.9 L467.4,581.7 L467.3,585.6 L467.1,589.4 L466.2,593.3 L466.4,597.1 L466.0,601.0 L466.0,604.8 L465.8,608.6 L465.6,612.5 L464.9,616.3 L465.2,620.2 L465.2,624.0 L464.7,627.8 L464.6,631.7 L463.9,635.5 L463.6,639.4 L463.8,643.2" stroke="#8c6e32" stroke-width="1.5" fill="none" opacity="0.55"/>
<path d="M405.2,536.0 Q404.5,502.3 405.0,468.6" stroke="#a0824a" stroke-width="1.42" fill="none" stroke-linecap="round"/><path d="M404.2,536.0 Q403.4,508.0 403.0,480.0" stroke="#8a6e3c" stroke-width="1.79" fill="none" stroke-linecap="round"/><path d="M404.1,536.0 Q406.7,513.0 407.0,490.0" stroke="#94783f" stroke-width="1.91" fill="none" stroke-linecap="round"/><path d="M417.3,536.0 Q418.0,499.9 417.7,463.8" stroke="#8a6e3c" stroke-width="1.79" fill="none" stroke-linecap="round"/><path d="M417.0,536.0 Q418.6,506.0 420.0,476.0" stroke="#8a6e3c" stroke-width="2.20" fill="none" stroke-linecap="round"/><path d="M417.4,536.0 Q416.2,511.0 415.0,486.0" stroke="#a0824a" stroke-width="1.37" fill="none" stroke-linecap="round"/><path d="M404.1,493.1 Q414.1,485.5 420.1,493.9" stroke="#aa8c52" stroke-width="0.8" fill="none" opacity="0.9"/><path d="M403.2,525.2 Q395.5,515.7 391.7,521.9" stroke="#a0824a" stroke-width="0.8" fill="none" opacity="0.9"/><path d="M406.5,510.7 Q398.4,502.2 394.4,508.6" stroke="#a0824a" stroke-width="0.8" fill="none" opacity="0.9"/><path d="M405.7,508.7 Q415.2,478.5 420.6,486.5" stroke="#aa8c52" stroke-width="0.8" fill="none" opacity="0.9"/><path d="M406.8,512.1 Q413.7,502.4 416.6,505.2" stroke="#a0824a" stroke-width="0.8" fill="none" opacity="0.9"/><path d="M405.3,500.6 Q398.1,472.9 394.8,476.0" stroke="#8a6e3c" stroke-width="0.8" fill="none" opacity="0.9"/><path d="M406.4,512.7 Q412.6,507.5 414.8,512.7" stroke="#94783f" stroke-width="0.8" fill="none" opacity="0.9"/><path d="M405.2,488.3 Q413.3,482.2 417.3,494.3" stroke="#a0824a" stroke-width="0.8" fill="none" opacity="0.9"/><path d="M404.9,511.4 Q413.9,505.1 419.0,516.5" stroke="#8a6e3c" stroke-width="0.8" fill="none" opacity="0.9"/><path d="M416.7,518.1 Q407.0,505.3 401.3,508.9" stroke="#8a6e3c" stroke-width="0.8" fill="none" opacity="0.9"/><path d="M418.9,484.5 Q431.1,465.8 439.4,473.3" stroke="#94783f" stroke-width="0.8" fill="none" opacity="0.9"/><path d="M418.4,477.5 Q406.9,464.8 399.4,470.0" stroke="#94783f" stroke-width="0.8" fill="none" opacity="0.9"/><path d="M418.7,504.3 Q405.0,496.7 395.2,508.5" stroke="#a0824a" stroke-width="0.8" fill="none" opacity="0.9"/><path d="M419.3,497.6 Q407.8,478.4 400.4,486.0" stroke="#aa8c52" stroke-width="0.8" fill="none" opacity="0.9"/><path d="M416.1,508.5 Q408.3,501.4 404.4,513.5" stroke="#94783f" stroke-width="0.8" fill="none" opacity="0.9"/><path d="M416.5,501.9 Q405.7,474.0 398.9,481.5" stroke="#aa8c52" stroke-width="0.8" fill="none" opacity="0.9"/><path d="M418.9,510.3 Q432.0,491.4 441.1,498.5" stroke="#94783f" stroke-width="0.8" fill="none" opacity="0.9"/><path d="M419.1,487.2 Q430.2,473.6 437.2,478.2" stroke="#a0824a" stroke-width="0.8" fill="none" opacity="0.9"/><path d="M464.0,537.0 Q464.6,502.8 463.5,468.6" stroke="#aa8c52" stroke-width="1.32" fill="none" stroke-linecap="round"/><path d="M463.1,537.0 Q460.6,508.9 458.7,480.7" stroke="#aa8c52" stroke-width="1.66" fill="none" stroke-linecap="round"/><path d="M465.0,537.0 Q465.6,511.5 466.0,486.0" stroke="#a0824a" stroke-width="1.42" fill="none" stroke-linecap="round"/><path d="M474.2,537.0 Q473.4,500.4 473.1,463.8" stroke="#8a6e3c" stroke-width="1.50" fill="none" stroke-linecap="round"/><path d="M474.9,537.0 Q476.0,501.6 477.2,466.2" stroke="#8a6e3c" stroke-width="1.96" fill="none" stroke-linecap="round"/><path d="M475.0,537.0 Q471.6,507.5 471.0,478.0" stroke="#a0824a" stroke-width="1.60" fill="none" stroke-linecap="round"/><path d="M465.8,530.0 Q457.6,512.2 453.4,517.8" stroke="#a0824a" stroke-width="0.8" fill="none" opacity="0.9"/><path d="M463.2,503.1 Q455.3,474.3 451.5,480.7" stroke="#94783f" stroke-width="0.8" fill="none" opacity="0.9"/><path d="M463.9,526.1 Q457.3,520.7 454.6,527.7" stroke="#a0824a" stroke-width="0.8" fill="none" opacity="0.9"/><path d="M463.8,491.1 Q454.8,487.1 449.7,495.5" stroke="#a0824a" stroke-width="0.8" fill="none" opacity="0.9"/><path d="M462.3,502.1 Q453.5,472.0 448.8,476.9" stroke="#aa8c52" stroke-width="0.8" fill="none" opacity="0.9"/><path d="M465.6,523.1 Q458.8,505.7 455.9,513.3" stroke="#aa8c52" stroke-width="0.8" fill="none" opacity="0.9"/><path d="M465.8,520.3 Q457.7,514.6 453.6,521.2" stroke="#8a6e3c" stroke-width="0.8" fill="none" opacity="0.9"/><path d="M463.7,483.1 Q474.3,455.1 481.0,458.0" stroke="#94783f" stroke-width="0.8" fill="none" opacity="0.9"/><path d="M474.2,488.4 Q482.1,481.9 486.0,489.0" stroke="#aa8c52" stroke-width="0.8" fill="none" opacity="0.9"/><path d="M475.5,513.1 Q487.1,509.2 494.7,511.9" stroke="#a0824a" stroke-width="0.8" fill="none" opacity="0.9"/><path d="M473.0,487.4 Q464.4,462.1 459.9,466.3" stroke="#8a6e3c" stroke-width="0.8" fill="none" opacity="0.9"/><path d="M472.9,478.5 Q482.5,470.3 488.2,476.5" stroke="#a0824a" stroke-width="0.8" fill="none" opacity="0.9"/><path d="M474.6,497.6 Q482.8,487.7 487.1,490.5" stroke="#aa8c52" stroke-width="0.8" fill="none" opacity="0.9"/><path d="M473.4,494.4 Q484.5,467.8 491.6,474.9" stroke="#94783f" stroke-width="0.8" fill="none" opacity="0.9"/><path d="M472.2,513.5 Q480.5,493.8 484.8,501.3" stroke="#94783f" stroke-width="0.8" fill="none" opacity="0.9"/><path d="M474.5,508.3 Q484.7,477.7 490.9,482.9" stroke="#a0824a" stroke-width="0.8" fill="none" opacity="0.9"/>
<path d="M371,534.90 L519.9,537.40 L519.9,540.70 L371,538.20 Z" fill="#4a4a50"/>
<line x1="371" y1="534.90" x2="519.9" y2="537.40" stroke="#aeaeb0" stroke-width="1.4"/>
<path d="M384.5,535.4 L434.0,535.4 C432.5,543.2 429.0,549.6 419.0,549.6 L399.5,549.6 C389.5,549.6 386.0,543.2 384.5,535.4 Z" fill="#60b0d8"/><path d="M387.5,541.4 L431.0,541.4 M389.5,543.9 L429.0,543.9 M392.5,546.4 L426.0,546.4" stroke="#88c4e0" stroke-width="0.7" opacity="0.35"/><rect x="384.5" y="535.4" width="49.5" height="3.3" fill="#80c8e8"/><path d="M436.2,536.4 L488.0,536.4 C486.5,544.3 483.0,550.8 473.0,550.8 L451.2,550.8 C441.2,550.8 437.7,544.3 436.2,536.4 Z" fill="#56d04a"/><path d="M439.2,542.4 L485.0,542.4 M441.2,544.9 L483.0,544.9 M444.2,547.4 L480.0,547.4" stroke="#78da78" stroke-width="0.7" opacity="0.35"/><rect x="436.2" y="536.4" width="51.8" height="3.3" fill="#72e0a4"/>
<line x1="371" y1="538.20" x2="519.9" y2="540.70" stroke="#bcbcb8" stroke-width="1.7"/>
</g>
<clipPath id="cpj"><rect x="525.9" y="424.2" width="148.50" height="232.50"/></clipPath>
<linearGradient id="bgj" x1="0" y1="0" x2="1" y2="0"><stop offset="0" stop-color="#706f7b"/><stop offset="0.15" stop-color="#706f7b"/><stop offset="1.0" stop-color="#5d5c69"/><stop offset="1" stop-color="#5d5c69"/></linearGradient>
<linearGradient id="bvj" x1="0" y1="0" x2="0" y2="1"><stop offset="0" stop-color="#444856" stop-opacity="0"/><stop offset="1" stop-color="#444856" stop-opacity="0.72"/></linearGradient>
<radialGradient id="rbj" cx="0.7" cy="0.2" r="0.9"><stop offset="0" stop-color="#262b38"/><stop offset="1" stop-color="#1d212b"/></radialGradient>
<linearGradient id="loj" x1="0" y1="0" x2="0" y2="1"><stop offset="0" stop-color="#252c3e"/><stop offset="0.2" stop-color="#222839"/><stop offset="0.45" stop-color="#1f2433"/><stop offset="0.62" stop-color="#1c1d24"/><stop offset="1" stop-color="#18181a"/></linearGradient>
<g clip-path="url(#cpj)">
<rect x="525.9" y="424.2" width="148.50" height="116.00" fill="url(#bgj)"/>
<rect x="525.9" y="424.2" width="148.50" height="116.00" fill="url(#bvj)"/>
<path d="M525.9,537.00 L674.4,539.40 L674.4,656.7 L525.9,656.7 Z" fill="url(#loj)"/>
<path d="M525.9,540.5 L540.6,541.5 Q552.1,568.5 542.7,588.5 Q534.3,596.5 525.9,596.5 Z" fill="#283046"/>
<path d="M633.4,540.5 Q629.4,565.5 635.4,585.5 L647.4,585.5 L647.4,540.5 Z" fill="#1c1f2c"/>
<path d="M652.6,540.5 Q643.1,546.5 645.4,570.5 Q646.0,590.5 651.2,596.5 L674.4,604.5 L674.4,540.5 Z" fill="url(#rbj)"/>
<path d="M672.4,545.5 Q665.7,551.5 661.4,563.5" stroke="#56607a" stroke-width="0.7" fill="none"/>
<rect x="652.00" y="590.50" width="22.40" height="66.20" fill="#201b15"/>
<rect x="652.00" y="590.50" width="3.5" height="66.20" fill="#342a1e"/>
<rect x="660.99" y="600.50" width="4" height="56.20" fill="#0e0d0c"/>
<path d="M652.50,591.00 L664.99,601.00 L664.99,606.00 L652.50,597.00 Z" fill="#7e6244"/>
<path d="M654.00,592.50 L664.99,602.50" stroke="#a88660" stroke-width="1.2" opacity="0.8"/>
<path d="M652.50,616.50 L664.99,626.50 L664.99,631.50 L652.50,622.50 Z" fill="#7e6244"/>
<path d="M654.00,618.00 L664.99,628.00" stroke="#a88660" stroke-width="1.2" opacity="0.8"/>
<path d="M652.50,640.50 L664.99,650.50 L664.99,655.50 L652.50,646.50 Z" fill="#7e6244"/>
<path d="M654.00,642.00 L664.99,652.00" stroke="#a88660" stroke-width="1.2" opacity="0.8"/>
<rect x="653.00" y="647.70" width="12.99" height="9" fill="#5e4830"/>
<rect x="664.99" y="602.50" width="9.41" height="54.20" fill="#b0642e"/>
<rect x="667.34" y="602.50" width="2.82" height="54.20" fill="#c47a40" opacity="0.7"/>
<path d="M662.99,598.50 L674.4,607.50 L674.4,584.50 L662.99,584.50 Z" fill="#1d212b"/>
<path d="M554.1,551.0 L554.5,554.6 L554.4,558.2 L554.4,561.8 L554.4,565.4 L555.4,569.0 L555.4,572.6 L555.7,576.2 L555.6,579.8 L555.3,583.4 L555.5,587.0 L555.6,590.6 L556.2,594.2 L556.4,597.9 L556.8,601.5 L556.5,605.1 L556.6,608.7 L556.8,612.3 L556.9,615.9 L556.9,619.5 L557.5,623.1 L557.6,626.7 L557.7,630.3 L558.3,633.9 L558.1,637.5 L558.9,637.5 L559.3,633.9 L558.9,630.3 L559.0,626.7 L559.1,623.1 L558.8,619.5 L558.9,615.9 L559.1,612.3 L559.1,608.7 L559.2,605.1 L559.8,601.5 L559.6,597.9 L559.7,594.2 L559.3,590.6 L559.5,587.0 L559.4,583.4 L559.9,579.8 L560.3,576.2 L560.2,572.6 L560.4,569.0 L559.7,565.4 L559.9,561.8 L560.1,558.2 L560.5,554.6 L560.4,551.0 Z" fill="#7a6628"/><path d="M557.0,551.0 L557.9,554.6 L557.3,558.2 L556.7,561.8 L556.5,565.4 L558.0,569.0 L558.2,572.6 L557.5,576.2 L558.0,579.8 L557.0,583.4 L557.7,587.0 L557.9,590.6 L558.2,594.2 L557.7,597.9 L557.9,601.5 L558.4,605.1 L558.4,608.7 L558.4,612.3 L558.0,615.9 L557.3,619.5 L558.1,623.1 L558.8,626.7 L557.8,630.3" stroke="#a08a3a" stroke-width="0.9" fill="none" opacity="0.55"/><path d="M568.9,551.0 L568.9,554.7 L568.9,558.4 L569.7,562.1 L569.4,565.8 L569.3,569.5 L569.6,573.2 L569.6,576.9 L570.0,580.6 L570.2,584.3 L570.4,588.0 L570.1,591.7 L570.6,595.4 L570.3,599.1 L570.8,602.8 L571.2,606.5 L570.9,610.2 L571.5,613.9 L571.1,617.6 L571.4,621.3 L571.9,625.0 L571.4,628.7 L571.9,632.4 L572.0,636.1 L572.1,639.8 L572.9,639.8 L573.0,636.1 L573.2,632.4 L572.9,628.7 L573.6,625.0 L573.5,621.3 L573.5,617.6 L574.1,613.9 L573.8,610.2 L574.3,606.5 L574.2,602.8 L574.0,599.1 L574.5,595.4 L574.3,591.7 L574.9,588.0 L575.0,584.3 L575.0,580.6 L575.0,576.9 L575.2,573.2 L575.1,569.5 L575.5,565.8 L576.0,562.1 L575.5,558.4 L575.8,554.7 L576.1,551.0 Z" fill="#7a6628"/><path d="M572.8,551.0 L572.9,554.7 L572.4,558.4 L572.5,562.1 L572.1,565.8 L572.2,569.5 L572.2,573.2 L572.4,576.9 L572.0,580.6 L572.9,584.3 L572.6,588.0 L571.7,591.7 L572.1,595.4 L572.7,599.1 L572.9,602.8 L573.2,606.5 L572.2,610.2 L573.4,613.9 L571.9,617.6 L572.7,621.3 L573.3,625.0 L571.8,628.7 L572.0,632.4" stroke="#a08a3a" stroke-width="1.1" fill="none" opacity="0.55"/><path d="M603.6,552.0 L603.4,555.9 L603.4,559.8 L604.0,563.7 L603.9,567.7 L603.9,571.6 L603.6,575.5 L604.1,579.4 L603.8,583.3 L603.8,587.2 L604.2,591.2 L604.3,595.1 L604.5,599.0 L604.6,602.9 L604.1,606.8 L604.2,610.7 L604.2,614.6 L604.5,618.6 L604.2,622.5 L604.9,626.4 L604.8,630.3 L604.9,634.2 L604.7,638.1 L605.1,642.1 L605.1,646.0 L605.2,649.9 L604.9,653.8 L605.6,653.8 L606.1,649.9 L606.4,646.0 L606.6,642.1 L606.5,638.1 L607.0,634.2 L607.1,630.3 L607.5,626.4 L607.0,622.5 L607.6,618.6 L607.6,614.6 L607.9,610.7 L608.0,606.8 L608.8,602.9 L609.0,599.0 L609.1,595.1 L609.2,591.2 L609.1,587.2 L609.3,583.3 L609.9,579.4 L609.7,575.5 L610.2,571.6 L610.6,567.7 L610.9,563.7 L610.6,559.8 L610.8,555.9 L611.4,552.0 Z" fill="#7a6628"/><path d="M607.9,552.0 L606.8,555.9 L606.8,559.8 L607.0,563.7 L607.6,567.7 L607.0,571.6 L607.3,575.5 L606.8,579.4 L606.4,583.3 L606.9,587.2 L607.3,591.2 L607.0,595.1 L607.2,599.0 L607.2,602.9 L605.8,606.8 L606.2,610.7 L605.3,614.6 L606.3,618.6 L606.1,622.5 L606.2,626.4 L605.5,630.3 L606.1,634.2 L605.1,638.1 L605.8,642.1 L605.2,646.0" stroke="#a08a3a" stroke-width="1.2" fill="none" opacity="0.55"/><path d="M621.1,552.0 L621.0,555.8 L621.3,559.7 L621.2,563.5 L621.3,567.3 L620.9,571.1 L620.8,575.0 L620.5,578.8 L621.0,582.6 L620.8,586.4 L620.7,590.3 L620.4,594.1 L620.6,597.9 L620.3,601.8 L620.3,605.6 L620.2,609.4 L620.4,613.2 L620.1,617.1 L620.7,620.9 L620.4,624.7 L620.6,628.5 L620.3,632.4 L619.9,636.2 L620.0,640.0 L620.4,643.8 L620.2,647.7 L620.0,651.5 L620.8,651.5 L621.1,647.7 L621.6,643.8 L621.4,640.0 L621.6,636.2 L622.2,632.4 L622.7,628.5 L622.7,624.7 L623.2,620.9 L622.9,617.1 L623.4,613.2 L623.4,609.4 L623.7,605.6 L624.0,601.8 L624.5,597.9 L624.6,594.1 L625.0,590.3 L625.4,586.4 L625.9,582.6 L625.6,578.8 L626.2,575.0 L626.5,571.1 L627.0,567.3 L627.2,563.5 L627.6,559.7 L627.5,555.8 L627.9,552.0 Z" fill="#7a6628"/><path d="M624.7,552.0 L624.4,555.8 L623.9,559.7 L623.9,563.5 L624.1,567.3 L624.1,571.1 L624.0,575.0 L623.1,578.8 L623.2,582.6 L622.6,586.4 L622.9,590.3 L622.4,594.1 L623.1,597.9 L621.7,601.8 L621.6,605.6 L621.2,609.4 L621.4,613.2 L621.9,617.1 L622.4,620.9 L621.2,624.7 L621.1,628.5 L621.3,632.4 L620.5,636.2 L620.8,640.0 L621.5,643.8" stroke="#a08a3a" stroke-width="1.0" fill="none" opacity="0.55"/>
<path d="M557.2,537.0 Q561.2,504.5 563.9,472.0" stroke="#8a7a40" stroke-width="1.04" fill="none" stroke-linecap="round"/><path d="M557.3,537.0 Q557.2,509.8 557.4,482.5" stroke="#aa9450" stroke-width="1.56" fill="none" stroke-linecap="round"/><path d="M557.0,537.0 Q559.8,513.5 560.0,490.0" stroke="#9c9048" stroke-width="1.27" fill="none" stroke-linecap="round"/><path d="M558.1,537.0 Q555.3,518.5 554.0,500.0" stroke="#8a7a40" stroke-width="1.31" fill="none" stroke-linecap="round"/><path d="M558.6,537.0 Q559.6,507.5 561.0,478.0" stroke="#8a7a40" stroke-width="1.36" fill="none" stroke-linecap="round"/><path d="M557.1,505.4 Q565.0,474.4 569.0,480.5" stroke="#948044" stroke-width="0.8" fill="none" opacity="0.9"/><path d="M559.6,528.3 Q569.8,510.8 576.0,517.8" stroke="#a08a48" stroke-width="0.8" fill="none" opacity="0.9"/><path d="M556.5,514.0 Q550.5,497.8 548.5,501.4" stroke="#9c9048" stroke-width="0.8" fill="none" opacity="0.9"/><path d="M558.5,494.5 Q568.6,483.3 574.7,486.7" stroke="#aa9450" stroke-width="0.8" fill="none" opacity="0.9"/><path d="M559.1,525.2 Q566.5,518.8 569.9,528.6" stroke="#8a7a40" stroke-width="0.8" fill="none" opacity="0.9"/><path d="M558.8,513.5 Q552.4,501.4 550.0,505.4" stroke="#948044" stroke-width="0.8" fill="none" opacity="0.9"/><path d="M557.5,513.2 Q549.2,489.7 544.9,493.4" stroke="#948044" stroke-width="0.8" fill="none" opacity="0.9"/><path d="M557.5,497.3 Q549.0,480.9 544.4,486.5" stroke="#948044" stroke-width="0.8" fill="none" opacity="0.9"/><path d="M575.4,537.0 Q577.0,505.8 577.9,474.6" stroke="#a08a48" stroke-width="1.58" fill="none" stroke-linecap="round"/><path d="M574.9,537.0 Q578.1,506.2 583.0,475.5" stroke="#948044" stroke-width="1.63" fill="none" stroke-linecap="round"/><path d="M574.7,537.0 Q572.9,514.5 572.0,492.0" stroke="#8a7a40" stroke-width="1.68" fill="none" stroke-linecap="round"/><path d="M574.8,537.0 Q576.0,511.0 579.0,485.0" stroke="#aa9450" stroke-width="1.65" fill="none" stroke-linecap="round"/><path d="M573.4,515.7 Q566.7,510.4 564.0,519.1" stroke="#aa9450" stroke-width="0.8" fill="none" opacity="0.9"/><path d="M576.9,528.6 Q587.2,512.9 593.5,519.5" stroke="#aa9450" stroke-width="0.8" fill="none" opacity="0.9"/><path d="M575.4,528.1 Q585.6,507.5 591.8,510.4" stroke="#948044" stroke-width="0.8" fill="none" opacity="0.9"/><path d="M576.0,495.3 Q569.3,488.2 566.6,500.1" stroke="#8a7a40" stroke-width="0.8" fill="none" opacity="0.9"/><path d="M573.3,511.8 Q583.7,488.8 590.1,491.1" stroke="#a08a48" stroke-width="0.8" fill="none" opacity="0.9"/><path d="M576.0,509.5 Q569.7,489.7 567.4,496.8" stroke="#8a7a40" stroke-width="0.8" fill="none" opacity="0.9"/><path d="M575.8,515.9 Q567.6,494.9 563.4,501.5" stroke="#a08a48" stroke-width="0.8" fill="none" opacity="0.9"/><path d="M576.2,518.4 Q585.0,513.2 589.8,517.8" stroke="#8a7a40" stroke-width="0.8" fill="none" opacity="0.9"/><path d="M608.9,538.0 Q606.6,509.8 606.0,481.6" stroke="#9c9048" stroke-width="1.68" fill="none" stroke-linecap="round"/><path d="M609.2,538.0 Q610.9,513.4 614.7,488.7" stroke="#948044" stroke-width="1.67" fill="none" stroke-linecap="round"/><path d="M609.3,538.0 Q606.1,516.5 603.0,495.0" stroke="#9c9048" stroke-width="1.05" fill="none" stroke-linecap="round"/><path d="M607.8,538.0 Q608.9,508.0 610.0,478.0" stroke="#9c9048" stroke-width="1.15" fill="none" stroke-linecap="round"/><path d="M606.3,504.2 Q595.3,496.8 588.3,508.5" stroke="#9c9048" stroke-width="0.8" fill="none" opacity="0.9"/><path d="M609.2,515.5 Q622.0,490.7 630.7,495.5" stroke="#8a7a40" stroke-width="0.8" fill="none" opacity="0.9"/><path d="M608.4,515.3 Q600.4,490.3 596.4,494.5" stroke="#aa9450" stroke-width="0.8" fill="none" opacity="0.9"/><path d="M607.3,517.1 Q597.3,500.5 591.4,507.6" stroke="#948044" stroke-width="0.8" fill="none" opacity="0.9"/><path d="M609.6,509.4 Q600.2,501.9 594.8,515.1" stroke="#aa9450" stroke-width="0.8" fill="none" opacity="0.9"/><path d="M607.6,531.7 Q598.9,510.1 594.3,515.6" stroke="#a08a48" stroke-width="0.8" fill="none" opacity="0.9"/><path d="M606.4,521.3 Q616.4,511.8 622.5,515.8" stroke="#a08a48" stroke-width="0.8" fill="none" opacity="0.9"/><path d="M607.2,514.2 Q598.3,496.1 593.3,503.5" stroke="#8a7a40" stroke-width="0.8" fill="none" opacity="0.9"/><path d="M609.4,504.2 Q620.1,485.5 626.8,487.9" stroke="#aa9450" stroke-width="0.8" fill="none" opacity="0.9"/><path d="M630.3,538.0 Q634.9,507.2 638.4,476.4" stroke="#aa9450" stroke-width="1.54" fill="none" stroke-linecap="round"/><path d="M628.8,538.0 Q630.9,513.0 633.0,488.0" stroke="#9c9048" stroke-width="1.29" fill="none" stroke-linecap="round"/><path d="M628.8,538.0 Q628.7,519.0 627.0,500.0" stroke="#aa9450" stroke-width="1.59" fill="none" stroke-linecap="round"/><path d="M630.1,538.0 Q632.1,510.0 636.0,482.0" stroke="#9c9048" stroke-width="1.41" fill="none" stroke-linecap="round"/><path d="M629.5,516.2 Q642.3,503.5 651.2,505.9" stroke="#aa9450" stroke-width="0.8" fill="none" opacity="0.9"/><path d="M629.3,507.4 Q640.3,502.1 647.3,505.1" stroke="#948044" stroke-width="0.8" fill="none" opacity="0.9"/><path d="M630.3,516.3 Q641.3,486.0 648.3,493.3" stroke="#948044" stroke-width="0.8" fill="none" opacity="0.9"/><path d="M630.4,528.1 Q641.0,505.6 647.6,508.2" stroke="#8a7a40" stroke-width="0.8" fill="none" opacity="0.9"/><path d="M631.9,500.9 Q621.4,478.2 614.9,480.5" stroke="#948044" stroke-width="0.8" fill="none" opacity="0.9"/><path d="M631.0,526.3 Q640.7,521.7 646.4,523.7" stroke="#9c9048" stroke-width="0.8" fill="none" opacity="0.9"/><path d="M629.5,519.1 Q640.8,496.4 648.1,502.7" stroke="#aa9450" stroke-width="0.8" fill="none" opacity="0.9"/><path d="M631.1,508.5 Q622.4,501.3 617.8,505.4" stroke="#aa9450" stroke-width="0.8" fill="none" opacity="0.9"/>
<path d="M525.9,536.00 L674.4,538.40 L674.4,541.70 L525.9,539.30 Z" fill="#4a4a50"/>
<line x1="525.9" y1="536.00" x2="674.4" y2="538.40" stroke="#aeaeb0" stroke-width="1.4"/>
<path d="M539.0,536.5 L589.5,536.5 C588.0,544.4 584.5,550.8 574.5,550.8 L554.0,550.8 C544.0,550.8 540.5,544.4 539.0,536.5 Z" fill="#60b2da"/><path d="M542.0,542.5 L586.5,542.5 M544.0,545.0 L584.5,545.0 M547.0,547.5 L581.5,547.5" stroke="#88c8e4" stroke-width="0.7" opacity="0.35"/><rect x="539.0" y="536.5" width="50.5" height="3.3" fill="#80cae8"/><path d="M594.3,537.4 L644.0,537.4 C642.5,545.4 639.0,552.0 629.0,552.0 L609.3,552.0 C599.3,552.0 595.8,545.4 594.3,537.4 Z" fill="#56d24c"/><path d="M597.3,543.4 L641.0,543.4 M599.3,545.9 L639.0,545.9 M602.3,548.4 L636.0,548.4" stroke="#7ade7a" stroke-width="0.7" opacity="0.35"/><rect x="594.3" y="537.4" width="49.7" height="3.3" fill="#74e0a6"/>
<line x1="525.9" y1="539.30" x2="674.4" y2="541.70" stroke="#bcbcb8" stroke-width="1.7"/>
</g>
<line x1="22" y1="516.1" x2="33.7" y2="516.1" stroke="#5a5252" stroke-width="1.1"/>
<line x1="45" y1="516.1" x2="56.2" y2="516.1" stroke="#5a5252" stroke-width="1.1"/>
<line x1="22" y1="551.1" x2="33.7" y2="551.1" stroke="#5a5252" stroke-width="1.1"/>
<line x1="45" y1="551.1" x2="56.2" y2="551.1" stroke="#5a5252" stroke-width="1.1"/>
<path d="M49.8,521 L57.7,534.2 L49.8,548 L42.1,534.2 Z" fill="#2a1c1c"/>
<path d="M43.6,534.6 Q50,530.6 56.4,534.6 Q50,538.6 43.6,534.6 Z" fill="#ffffff"/>
<rect x="49.1" y="531.5" width="1.4" height="6.4" fill="#2a1c1c"/>
<text transform="translate(-0.6,540.4) scale(1.035,1)" font-size="14.6">30 cm</text>
<text transform="translate(74.6,417.2) scale(1.035,1)" font-size="14.4" font-weight="bold">g</text>
<text transform="translate(230,417.0) scale(1.035,1)" font-size="14.4" font-weight="bold">h</text>
<text transform="translate(387.6,418.7) scale(1.035,1)" font-size="14.4" font-weight="bold">i</text>
<text transform="translate(534.6,418.7) scale(1.035,1)" font-size="14.4" font-weight="bold">j</text>
<text transform="translate(102.0,672.5) scale(1.0,1)" font-size="14.4">HPHK</text>
<text transform="translate(263.9,672.6) scale(1.0,1)" font-size="14.4">HPLK</text>
<text transform="translate(424.2,672.6) scale(1.0,1)" font-size="14.4">LPHK</text>
<text transform="translate(595.5,672.4) scale(1.0,1)" font-size="14.4">LPLK</text>
</svg>
</body></html>
